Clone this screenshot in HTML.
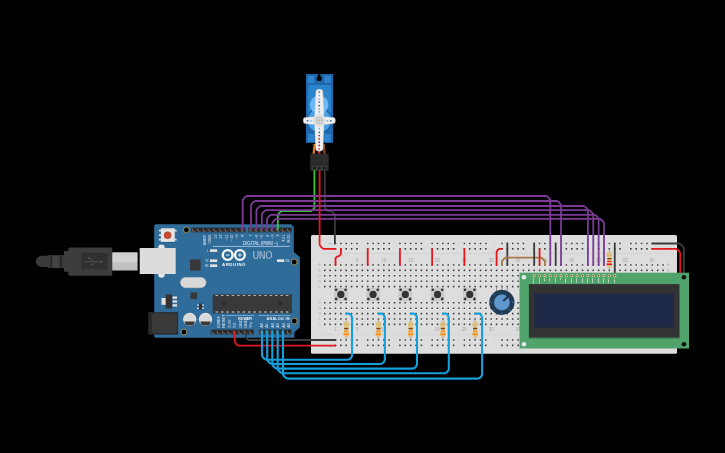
<!DOCTYPE html>
<html><head><meta charset="utf-8"><style>html,body{margin:0;padding:0;background:#000;overflow:hidden}svg{display:block;will-change:transform}</style></head>
<body><svg width="725" height="453" viewBox="0 0 725 453">
<rect x="0" y="0" width="725" height="453" fill="#000"/>
<rect x="311" y="235" width="366" height="118.8" rx="1.6" fill="#dddddd"/>
<line x1="320" y1="253.5" x2="668" y2="253.5" stroke="#cfcfcf" stroke-width="0.6"/>
<line x1="320" y1="334.6" x2="668" y2="334.6" stroke="#d2d2d2" stroke-width="0.6"/>
<line x1="494" y1="237" x2="494" y2="252" stroke="#d2d2d2" stroke-width="0.5"/>
<line x1="494" y1="336" x2="494" y2="351" stroke="#d2d2d2" stroke-width="0.5"/>
<path d="M323.56 263.9h2.6v2.6h-2.6zM323.56 269.3h2.6v2.6h-2.6zM323.56 274.7h2.6v2.6h-2.6zM323.56 280.1h2.6v2.6h-2.6zM323.56 285.5h2.6v2.6h-2.6zM323.56 301.7h2.6v2.6h-2.6zM323.56 307.1h2.6v2.6h-2.6zM323.56 312.5h2.6v2.6h-2.6zM323.56 317.9h2.6v2.6h-2.6zM323.56 323.3h2.6v2.6h-2.6zM328.93 263.9h2.6v2.6h-2.6zM328.93 269.3h2.6v2.6h-2.6zM328.93 274.7h2.6v2.6h-2.6zM328.93 280.1h2.6v2.6h-2.6zM328.93 285.5h2.6v2.6h-2.6zM328.93 301.7h2.6v2.6h-2.6zM328.93 307.1h2.6v2.6h-2.6zM328.93 312.5h2.6v2.6h-2.6zM328.93 317.9h2.6v2.6h-2.6zM328.93 323.3h2.6v2.6h-2.6zM334.3 263.9h2.6v2.6h-2.6zM334.3 269.3h2.6v2.6h-2.6zM334.3 274.7h2.6v2.6h-2.6zM334.3 280.1h2.6v2.6h-2.6zM334.3 285.5h2.6v2.6h-2.6zM334.3 301.7h2.6v2.6h-2.6zM334.3 307.1h2.6v2.6h-2.6zM334.3 312.5h2.6v2.6h-2.6zM334.3 317.9h2.6v2.6h-2.6zM334.3 323.3h2.6v2.6h-2.6zM339.67 263.9h2.6v2.6h-2.6zM339.67 269.3h2.6v2.6h-2.6zM339.67 274.7h2.6v2.6h-2.6zM339.67 280.1h2.6v2.6h-2.6zM339.67 285.5h2.6v2.6h-2.6zM339.67 301.7h2.6v2.6h-2.6zM339.67 307.1h2.6v2.6h-2.6zM339.67 312.5h2.6v2.6h-2.6zM339.67 317.9h2.6v2.6h-2.6zM339.67 323.3h2.6v2.6h-2.6zM345.04 263.9h2.6v2.6h-2.6zM345.04 269.3h2.6v2.6h-2.6zM345.04 274.7h2.6v2.6h-2.6zM345.04 280.1h2.6v2.6h-2.6zM345.04 285.5h2.6v2.6h-2.6zM345.04 301.7h2.6v2.6h-2.6zM345.04 307.1h2.6v2.6h-2.6zM345.04 312.5h2.6v2.6h-2.6zM345.04 317.9h2.6v2.6h-2.6zM345.04 323.3h2.6v2.6h-2.6zM350.41 263.9h2.6v2.6h-2.6zM350.41 269.3h2.6v2.6h-2.6zM350.41 274.7h2.6v2.6h-2.6zM350.41 280.1h2.6v2.6h-2.6zM350.41 285.5h2.6v2.6h-2.6zM350.41 301.7h2.6v2.6h-2.6zM350.41 307.1h2.6v2.6h-2.6zM350.41 312.5h2.6v2.6h-2.6zM350.41 317.9h2.6v2.6h-2.6zM350.41 323.3h2.6v2.6h-2.6zM355.78 263.9h2.6v2.6h-2.6zM355.78 269.3h2.6v2.6h-2.6zM355.78 274.7h2.6v2.6h-2.6zM355.78 280.1h2.6v2.6h-2.6zM355.78 285.5h2.6v2.6h-2.6zM355.78 301.7h2.6v2.6h-2.6zM355.78 307.1h2.6v2.6h-2.6zM355.78 312.5h2.6v2.6h-2.6zM355.78 317.9h2.6v2.6h-2.6zM355.78 323.3h2.6v2.6h-2.6zM361.15 263.9h2.6v2.6h-2.6zM361.15 269.3h2.6v2.6h-2.6zM361.15 274.7h2.6v2.6h-2.6zM361.15 280.1h2.6v2.6h-2.6zM361.15 285.5h2.6v2.6h-2.6zM361.15 301.7h2.6v2.6h-2.6zM361.15 307.1h2.6v2.6h-2.6zM361.15 312.5h2.6v2.6h-2.6zM361.15 317.9h2.6v2.6h-2.6zM361.15 323.3h2.6v2.6h-2.6zM366.52 263.9h2.6v2.6h-2.6zM366.52 269.3h2.6v2.6h-2.6zM366.52 274.7h2.6v2.6h-2.6zM366.52 280.1h2.6v2.6h-2.6zM366.52 285.5h2.6v2.6h-2.6zM366.52 301.7h2.6v2.6h-2.6zM366.52 307.1h2.6v2.6h-2.6zM366.52 312.5h2.6v2.6h-2.6zM366.52 317.9h2.6v2.6h-2.6zM366.52 323.3h2.6v2.6h-2.6zM371.89 263.9h2.6v2.6h-2.6zM371.89 269.3h2.6v2.6h-2.6zM371.89 274.7h2.6v2.6h-2.6zM371.89 280.1h2.6v2.6h-2.6zM371.89 285.5h2.6v2.6h-2.6zM371.89 301.7h2.6v2.6h-2.6zM371.89 307.1h2.6v2.6h-2.6zM371.89 312.5h2.6v2.6h-2.6zM371.89 317.9h2.6v2.6h-2.6zM371.89 323.3h2.6v2.6h-2.6zM377.26 263.9h2.6v2.6h-2.6zM377.26 269.3h2.6v2.6h-2.6zM377.26 274.7h2.6v2.6h-2.6zM377.26 280.1h2.6v2.6h-2.6zM377.26 285.5h2.6v2.6h-2.6zM377.26 301.7h2.6v2.6h-2.6zM377.26 307.1h2.6v2.6h-2.6zM377.26 312.5h2.6v2.6h-2.6zM377.26 317.9h2.6v2.6h-2.6zM377.26 323.3h2.6v2.6h-2.6zM382.63 263.9h2.6v2.6h-2.6zM382.63 269.3h2.6v2.6h-2.6zM382.63 274.7h2.6v2.6h-2.6zM382.63 280.1h2.6v2.6h-2.6zM382.63 285.5h2.6v2.6h-2.6zM382.63 301.7h2.6v2.6h-2.6zM382.63 307.1h2.6v2.6h-2.6zM382.63 312.5h2.6v2.6h-2.6zM382.63 317.9h2.6v2.6h-2.6zM382.63 323.3h2.6v2.6h-2.6zM388 263.9h2.6v2.6h-2.6zM388 269.3h2.6v2.6h-2.6zM388 274.7h2.6v2.6h-2.6zM388 280.1h2.6v2.6h-2.6zM388 285.5h2.6v2.6h-2.6zM388 301.7h2.6v2.6h-2.6zM388 307.1h2.6v2.6h-2.6zM388 312.5h2.6v2.6h-2.6zM388 317.9h2.6v2.6h-2.6zM388 323.3h2.6v2.6h-2.6zM393.37 263.9h2.6v2.6h-2.6zM393.37 269.3h2.6v2.6h-2.6zM393.37 274.7h2.6v2.6h-2.6zM393.37 280.1h2.6v2.6h-2.6zM393.37 285.5h2.6v2.6h-2.6zM393.37 301.7h2.6v2.6h-2.6zM393.37 307.1h2.6v2.6h-2.6zM393.37 312.5h2.6v2.6h-2.6zM393.37 317.9h2.6v2.6h-2.6zM393.37 323.3h2.6v2.6h-2.6zM398.74 263.9h2.6v2.6h-2.6zM398.74 269.3h2.6v2.6h-2.6zM398.74 274.7h2.6v2.6h-2.6zM398.74 280.1h2.6v2.6h-2.6zM398.74 285.5h2.6v2.6h-2.6zM398.74 301.7h2.6v2.6h-2.6zM398.74 307.1h2.6v2.6h-2.6zM398.74 312.5h2.6v2.6h-2.6zM398.74 317.9h2.6v2.6h-2.6zM398.74 323.3h2.6v2.6h-2.6zM404.11 263.9h2.6v2.6h-2.6zM404.11 269.3h2.6v2.6h-2.6zM404.11 274.7h2.6v2.6h-2.6zM404.11 280.1h2.6v2.6h-2.6zM404.11 285.5h2.6v2.6h-2.6zM404.11 301.7h2.6v2.6h-2.6zM404.11 307.1h2.6v2.6h-2.6zM404.11 312.5h2.6v2.6h-2.6zM404.11 317.9h2.6v2.6h-2.6zM404.11 323.3h2.6v2.6h-2.6zM409.48 263.9h2.6v2.6h-2.6zM409.48 269.3h2.6v2.6h-2.6zM409.48 274.7h2.6v2.6h-2.6zM409.48 280.1h2.6v2.6h-2.6zM409.48 285.5h2.6v2.6h-2.6zM409.48 301.7h2.6v2.6h-2.6zM409.48 307.1h2.6v2.6h-2.6zM409.48 312.5h2.6v2.6h-2.6zM409.48 317.9h2.6v2.6h-2.6zM409.48 323.3h2.6v2.6h-2.6zM414.85 263.9h2.6v2.6h-2.6zM414.85 269.3h2.6v2.6h-2.6zM414.85 274.7h2.6v2.6h-2.6zM414.85 280.1h2.6v2.6h-2.6zM414.85 285.5h2.6v2.6h-2.6zM414.85 301.7h2.6v2.6h-2.6zM414.85 307.1h2.6v2.6h-2.6zM414.85 312.5h2.6v2.6h-2.6zM414.85 317.9h2.6v2.6h-2.6zM414.85 323.3h2.6v2.6h-2.6zM420.22 263.9h2.6v2.6h-2.6zM420.22 269.3h2.6v2.6h-2.6zM420.22 274.7h2.6v2.6h-2.6zM420.22 280.1h2.6v2.6h-2.6zM420.22 285.5h2.6v2.6h-2.6zM420.22 301.7h2.6v2.6h-2.6zM420.22 307.1h2.6v2.6h-2.6zM420.22 312.5h2.6v2.6h-2.6zM420.22 317.9h2.6v2.6h-2.6zM420.22 323.3h2.6v2.6h-2.6zM425.59 263.9h2.6v2.6h-2.6zM425.59 269.3h2.6v2.6h-2.6zM425.59 274.7h2.6v2.6h-2.6zM425.59 280.1h2.6v2.6h-2.6zM425.59 285.5h2.6v2.6h-2.6zM425.59 301.7h2.6v2.6h-2.6zM425.59 307.1h2.6v2.6h-2.6zM425.59 312.5h2.6v2.6h-2.6zM425.59 317.9h2.6v2.6h-2.6zM425.59 323.3h2.6v2.6h-2.6zM430.96 263.9h2.6v2.6h-2.6zM430.96 269.3h2.6v2.6h-2.6zM430.96 274.7h2.6v2.6h-2.6zM430.96 280.1h2.6v2.6h-2.6zM430.96 285.5h2.6v2.6h-2.6zM430.96 301.7h2.6v2.6h-2.6zM430.96 307.1h2.6v2.6h-2.6zM430.96 312.5h2.6v2.6h-2.6zM430.96 317.9h2.6v2.6h-2.6zM430.96 323.3h2.6v2.6h-2.6zM436.33 263.9h2.6v2.6h-2.6zM436.33 269.3h2.6v2.6h-2.6zM436.33 274.7h2.6v2.6h-2.6zM436.33 280.1h2.6v2.6h-2.6zM436.33 285.5h2.6v2.6h-2.6zM436.33 301.7h2.6v2.6h-2.6zM436.33 307.1h2.6v2.6h-2.6zM436.33 312.5h2.6v2.6h-2.6zM436.33 317.9h2.6v2.6h-2.6zM436.33 323.3h2.6v2.6h-2.6zM441.7 263.9h2.6v2.6h-2.6zM441.7 269.3h2.6v2.6h-2.6zM441.7 274.7h2.6v2.6h-2.6zM441.7 280.1h2.6v2.6h-2.6zM441.7 285.5h2.6v2.6h-2.6zM441.7 301.7h2.6v2.6h-2.6zM441.7 307.1h2.6v2.6h-2.6zM441.7 312.5h2.6v2.6h-2.6zM441.7 317.9h2.6v2.6h-2.6zM441.7 323.3h2.6v2.6h-2.6zM447.07 263.9h2.6v2.6h-2.6zM447.07 269.3h2.6v2.6h-2.6zM447.07 274.7h2.6v2.6h-2.6zM447.07 280.1h2.6v2.6h-2.6zM447.07 285.5h2.6v2.6h-2.6zM447.07 301.7h2.6v2.6h-2.6zM447.07 307.1h2.6v2.6h-2.6zM447.07 312.5h2.6v2.6h-2.6zM447.07 317.9h2.6v2.6h-2.6zM447.07 323.3h2.6v2.6h-2.6zM452.44 263.9h2.6v2.6h-2.6zM452.44 269.3h2.6v2.6h-2.6zM452.44 274.7h2.6v2.6h-2.6zM452.44 280.1h2.6v2.6h-2.6zM452.44 285.5h2.6v2.6h-2.6zM452.44 301.7h2.6v2.6h-2.6zM452.44 307.1h2.6v2.6h-2.6zM452.44 312.5h2.6v2.6h-2.6zM452.44 317.9h2.6v2.6h-2.6zM452.44 323.3h2.6v2.6h-2.6zM457.81 263.9h2.6v2.6h-2.6zM457.81 269.3h2.6v2.6h-2.6zM457.81 274.7h2.6v2.6h-2.6zM457.81 280.1h2.6v2.6h-2.6zM457.81 285.5h2.6v2.6h-2.6zM457.81 301.7h2.6v2.6h-2.6zM457.81 307.1h2.6v2.6h-2.6zM457.81 312.5h2.6v2.6h-2.6zM457.81 317.9h2.6v2.6h-2.6zM457.81 323.3h2.6v2.6h-2.6zM463.18 263.9h2.6v2.6h-2.6zM463.18 269.3h2.6v2.6h-2.6zM463.18 274.7h2.6v2.6h-2.6zM463.18 280.1h2.6v2.6h-2.6zM463.18 285.5h2.6v2.6h-2.6zM463.18 301.7h2.6v2.6h-2.6zM463.18 307.1h2.6v2.6h-2.6zM463.18 312.5h2.6v2.6h-2.6zM463.18 317.9h2.6v2.6h-2.6zM463.18 323.3h2.6v2.6h-2.6zM468.55 263.9h2.6v2.6h-2.6zM468.55 269.3h2.6v2.6h-2.6zM468.55 274.7h2.6v2.6h-2.6zM468.55 280.1h2.6v2.6h-2.6zM468.55 285.5h2.6v2.6h-2.6zM468.55 301.7h2.6v2.6h-2.6zM468.55 307.1h2.6v2.6h-2.6zM468.55 312.5h2.6v2.6h-2.6zM468.55 317.9h2.6v2.6h-2.6zM468.55 323.3h2.6v2.6h-2.6zM473.92 263.9h2.6v2.6h-2.6zM473.92 269.3h2.6v2.6h-2.6zM473.92 274.7h2.6v2.6h-2.6zM473.92 280.1h2.6v2.6h-2.6zM473.92 285.5h2.6v2.6h-2.6zM473.92 301.7h2.6v2.6h-2.6zM473.92 307.1h2.6v2.6h-2.6zM473.92 312.5h2.6v2.6h-2.6zM473.92 317.9h2.6v2.6h-2.6zM473.92 323.3h2.6v2.6h-2.6zM479.29 263.9h2.6v2.6h-2.6zM479.29 269.3h2.6v2.6h-2.6zM479.29 274.7h2.6v2.6h-2.6zM479.29 280.1h2.6v2.6h-2.6zM479.29 285.5h2.6v2.6h-2.6zM479.29 301.7h2.6v2.6h-2.6zM479.29 307.1h2.6v2.6h-2.6zM479.29 312.5h2.6v2.6h-2.6zM479.29 317.9h2.6v2.6h-2.6zM479.29 323.3h2.6v2.6h-2.6zM484.66 263.9h2.6v2.6h-2.6zM484.66 269.3h2.6v2.6h-2.6zM484.66 274.7h2.6v2.6h-2.6zM484.66 280.1h2.6v2.6h-2.6zM484.66 285.5h2.6v2.6h-2.6zM484.66 301.7h2.6v2.6h-2.6zM484.66 307.1h2.6v2.6h-2.6zM484.66 312.5h2.6v2.6h-2.6zM484.66 317.9h2.6v2.6h-2.6zM484.66 323.3h2.6v2.6h-2.6zM490.03 263.9h2.6v2.6h-2.6zM490.03 269.3h2.6v2.6h-2.6zM490.03 274.7h2.6v2.6h-2.6zM490.03 280.1h2.6v2.6h-2.6zM490.03 285.5h2.6v2.6h-2.6zM490.03 301.7h2.6v2.6h-2.6zM490.03 307.1h2.6v2.6h-2.6zM490.03 312.5h2.6v2.6h-2.6zM490.03 317.9h2.6v2.6h-2.6zM490.03 323.3h2.6v2.6h-2.6zM495.4 263.9h2.6v2.6h-2.6zM495.4 269.3h2.6v2.6h-2.6zM495.4 274.7h2.6v2.6h-2.6zM495.4 280.1h2.6v2.6h-2.6zM495.4 285.5h2.6v2.6h-2.6zM495.4 301.7h2.6v2.6h-2.6zM495.4 307.1h2.6v2.6h-2.6zM495.4 312.5h2.6v2.6h-2.6zM495.4 317.9h2.6v2.6h-2.6zM495.4 323.3h2.6v2.6h-2.6zM500.77 263.9h2.6v2.6h-2.6zM500.77 269.3h2.6v2.6h-2.6zM500.77 274.7h2.6v2.6h-2.6zM500.77 280.1h2.6v2.6h-2.6zM500.77 285.5h2.6v2.6h-2.6zM500.77 301.7h2.6v2.6h-2.6zM500.77 307.1h2.6v2.6h-2.6zM500.77 312.5h2.6v2.6h-2.6zM500.77 317.9h2.6v2.6h-2.6zM500.77 323.3h2.6v2.6h-2.6zM506.14 263.9h2.6v2.6h-2.6zM506.14 269.3h2.6v2.6h-2.6zM506.14 274.7h2.6v2.6h-2.6zM506.14 280.1h2.6v2.6h-2.6zM506.14 285.5h2.6v2.6h-2.6zM506.14 301.7h2.6v2.6h-2.6zM506.14 307.1h2.6v2.6h-2.6zM506.14 312.5h2.6v2.6h-2.6zM506.14 317.9h2.6v2.6h-2.6zM506.14 323.3h2.6v2.6h-2.6zM511.51 263.9h2.6v2.6h-2.6zM511.51 269.3h2.6v2.6h-2.6zM511.51 274.7h2.6v2.6h-2.6zM511.51 280.1h2.6v2.6h-2.6zM511.51 285.5h2.6v2.6h-2.6zM511.51 301.7h2.6v2.6h-2.6zM511.51 307.1h2.6v2.6h-2.6zM511.51 312.5h2.6v2.6h-2.6zM511.51 317.9h2.6v2.6h-2.6zM511.51 323.3h2.6v2.6h-2.6zM516.88 263.9h2.6v2.6h-2.6zM516.88 269.3h2.6v2.6h-2.6zM516.88 274.7h2.6v2.6h-2.6zM516.88 280.1h2.6v2.6h-2.6zM516.88 285.5h2.6v2.6h-2.6zM516.88 301.7h2.6v2.6h-2.6zM516.88 307.1h2.6v2.6h-2.6zM516.88 312.5h2.6v2.6h-2.6zM516.88 317.9h2.6v2.6h-2.6zM516.88 323.3h2.6v2.6h-2.6zM522.25 263.9h2.6v2.6h-2.6zM522.25 269.3h2.6v2.6h-2.6zM522.25 274.7h2.6v2.6h-2.6zM522.25 280.1h2.6v2.6h-2.6zM522.25 285.5h2.6v2.6h-2.6zM522.25 301.7h2.6v2.6h-2.6zM522.25 307.1h2.6v2.6h-2.6zM522.25 312.5h2.6v2.6h-2.6zM522.25 317.9h2.6v2.6h-2.6zM522.25 323.3h2.6v2.6h-2.6zM527.62 263.9h2.6v2.6h-2.6zM527.62 269.3h2.6v2.6h-2.6zM527.62 274.7h2.6v2.6h-2.6zM527.62 280.1h2.6v2.6h-2.6zM527.62 285.5h2.6v2.6h-2.6zM527.62 301.7h2.6v2.6h-2.6zM527.62 307.1h2.6v2.6h-2.6zM527.62 312.5h2.6v2.6h-2.6zM527.62 317.9h2.6v2.6h-2.6zM527.62 323.3h2.6v2.6h-2.6zM532.99 263.9h2.6v2.6h-2.6zM532.99 269.3h2.6v2.6h-2.6zM532.99 274.7h2.6v2.6h-2.6zM532.99 280.1h2.6v2.6h-2.6zM532.99 285.5h2.6v2.6h-2.6zM532.99 301.7h2.6v2.6h-2.6zM532.99 307.1h2.6v2.6h-2.6zM532.99 312.5h2.6v2.6h-2.6zM532.99 317.9h2.6v2.6h-2.6zM532.99 323.3h2.6v2.6h-2.6zM538.36 263.9h2.6v2.6h-2.6zM538.36 269.3h2.6v2.6h-2.6zM538.36 274.7h2.6v2.6h-2.6zM538.36 280.1h2.6v2.6h-2.6zM538.36 285.5h2.6v2.6h-2.6zM538.36 301.7h2.6v2.6h-2.6zM538.36 307.1h2.6v2.6h-2.6zM538.36 312.5h2.6v2.6h-2.6zM538.36 317.9h2.6v2.6h-2.6zM538.36 323.3h2.6v2.6h-2.6zM543.73 263.9h2.6v2.6h-2.6zM543.73 269.3h2.6v2.6h-2.6zM543.73 274.7h2.6v2.6h-2.6zM543.73 280.1h2.6v2.6h-2.6zM543.73 285.5h2.6v2.6h-2.6zM543.73 301.7h2.6v2.6h-2.6zM543.73 307.1h2.6v2.6h-2.6zM543.73 312.5h2.6v2.6h-2.6zM543.73 317.9h2.6v2.6h-2.6zM543.73 323.3h2.6v2.6h-2.6zM549.1 263.9h2.6v2.6h-2.6zM549.1 269.3h2.6v2.6h-2.6zM549.1 274.7h2.6v2.6h-2.6zM549.1 280.1h2.6v2.6h-2.6zM549.1 285.5h2.6v2.6h-2.6zM549.1 301.7h2.6v2.6h-2.6zM549.1 307.1h2.6v2.6h-2.6zM549.1 312.5h2.6v2.6h-2.6zM549.1 317.9h2.6v2.6h-2.6zM549.1 323.3h2.6v2.6h-2.6zM554.47 263.9h2.6v2.6h-2.6zM554.47 269.3h2.6v2.6h-2.6zM554.47 274.7h2.6v2.6h-2.6zM554.47 280.1h2.6v2.6h-2.6zM554.47 285.5h2.6v2.6h-2.6zM554.47 301.7h2.6v2.6h-2.6zM554.47 307.1h2.6v2.6h-2.6zM554.47 312.5h2.6v2.6h-2.6zM554.47 317.9h2.6v2.6h-2.6zM554.47 323.3h2.6v2.6h-2.6zM559.84 263.9h2.6v2.6h-2.6zM559.84 269.3h2.6v2.6h-2.6zM559.84 274.7h2.6v2.6h-2.6zM559.84 280.1h2.6v2.6h-2.6zM559.84 285.5h2.6v2.6h-2.6zM559.84 301.7h2.6v2.6h-2.6zM559.84 307.1h2.6v2.6h-2.6zM559.84 312.5h2.6v2.6h-2.6zM559.84 317.9h2.6v2.6h-2.6zM559.84 323.3h2.6v2.6h-2.6zM565.21 263.9h2.6v2.6h-2.6zM565.21 269.3h2.6v2.6h-2.6zM565.21 274.7h2.6v2.6h-2.6zM565.21 280.1h2.6v2.6h-2.6zM565.21 285.5h2.6v2.6h-2.6zM565.21 301.7h2.6v2.6h-2.6zM565.21 307.1h2.6v2.6h-2.6zM565.21 312.5h2.6v2.6h-2.6zM565.21 317.9h2.6v2.6h-2.6zM565.21 323.3h2.6v2.6h-2.6zM570.58 263.9h2.6v2.6h-2.6zM570.58 269.3h2.6v2.6h-2.6zM570.58 274.7h2.6v2.6h-2.6zM570.58 280.1h2.6v2.6h-2.6zM570.58 285.5h2.6v2.6h-2.6zM570.58 301.7h2.6v2.6h-2.6zM570.58 307.1h2.6v2.6h-2.6zM570.58 312.5h2.6v2.6h-2.6zM570.58 317.9h2.6v2.6h-2.6zM570.58 323.3h2.6v2.6h-2.6zM575.95 263.9h2.6v2.6h-2.6zM575.95 269.3h2.6v2.6h-2.6zM575.95 274.7h2.6v2.6h-2.6zM575.95 280.1h2.6v2.6h-2.6zM575.95 285.5h2.6v2.6h-2.6zM575.95 301.7h2.6v2.6h-2.6zM575.95 307.1h2.6v2.6h-2.6zM575.95 312.5h2.6v2.6h-2.6zM575.95 317.9h2.6v2.6h-2.6zM575.95 323.3h2.6v2.6h-2.6zM581.32 263.9h2.6v2.6h-2.6zM581.32 269.3h2.6v2.6h-2.6zM581.32 274.7h2.6v2.6h-2.6zM581.32 280.1h2.6v2.6h-2.6zM581.32 285.5h2.6v2.6h-2.6zM581.32 301.7h2.6v2.6h-2.6zM581.32 307.1h2.6v2.6h-2.6zM581.32 312.5h2.6v2.6h-2.6zM581.32 317.9h2.6v2.6h-2.6zM581.32 323.3h2.6v2.6h-2.6zM586.69 263.9h2.6v2.6h-2.6zM586.69 269.3h2.6v2.6h-2.6zM586.69 274.7h2.6v2.6h-2.6zM586.69 280.1h2.6v2.6h-2.6zM586.69 285.5h2.6v2.6h-2.6zM586.69 301.7h2.6v2.6h-2.6zM586.69 307.1h2.6v2.6h-2.6zM586.69 312.5h2.6v2.6h-2.6zM586.69 317.9h2.6v2.6h-2.6zM586.69 323.3h2.6v2.6h-2.6zM592.06 263.9h2.6v2.6h-2.6zM592.06 269.3h2.6v2.6h-2.6zM592.06 274.7h2.6v2.6h-2.6zM592.06 280.1h2.6v2.6h-2.6zM592.06 285.5h2.6v2.6h-2.6zM592.06 301.7h2.6v2.6h-2.6zM592.06 307.1h2.6v2.6h-2.6zM592.06 312.5h2.6v2.6h-2.6zM592.06 317.9h2.6v2.6h-2.6zM592.06 323.3h2.6v2.6h-2.6zM597.43 263.9h2.6v2.6h-2.6zM597.43 269.3h2.6v2.6h-2.6zM597.43 274.7h2.6v2.6h-2.6zM597.43 280.1h2.6v2.6h-2.6zM597.43 285.5h2.6v2.6h-2.6zM597.43 301.7h2.6v2.6h-2.6zM597.43 307.1h2.6v2.6h-2.6zM597.43 312.5h2.6v2.6h-2.6zM597.43 317.9h2.6v2.6h-2.6zM597.43 323.3h2.6v2.6h-2.6zM602.8 263.9h2.6v2.6h-2.6zM602.8 269.3h2.6v2.6h-2.6zM602.8 274.7h2.6v2.6h-2.6zM602.8 280.1h2.6v2.6h-2.6zM602.8 285.5h2.6v2.6h-2.6zM602.8 301.7h2.6v2.6h-2.6zM602.8 307.1h2.6v2.6h-2.6zM602.8 312.5h2.6v2.6h-2.6zM602.8 317.9h2.6v2.6h-2.6zM602.8 323.3h2.6v2.6h-2.6zM608.17 263.9h2.6v2.6h-2.6zM608.17 269.3h2.6v2.6h-2.6zM608.17 274.7h2.6v2.6h-2.6zM608.17 280.1h2.6v2.6h-2.6zM608.17 285.5h2.6v2.6h-2.6zM608.17 301.7h2.6v2.6h-2.6zM608.17 307.1h2.6v2.6h-2.6zM608.17 312.5h2.6v2.6h-2.6zM608.17 317.9h2.6v2.6h-2.6zM608.17 323.3h2.6v2.6h-2.6zM613.54 263.9h2.6v2.6h-2.6zM613.54 269.3h2.6v2.6h-2.6zM613.54 274.7h2.6v2.6h-2.6zM613.54 280.1h2.6v2.6h-2.6zM613.54 285.5h2.6v2.6h-2.6zM613.54 301.7h2.6v2.6h-2.6zM613.54 307.1h2.6v2.6h-2.6zM613.54 312.5h2.6v2.6h-2.6zM613.54 317.9h2.6v2.6h-2.6zM613.54 323.3h2.6v2.6h-2.6zM618.91 263.9h2.6v2.6h-2.6zM618.91 269.3h2.6v2.6h-2.6zM618.91 274.7h2.6v2.6h-2.6zM618.91 280.1h2.6v2.6h-2.6zM618.91 285.5h2.6v2.6h-2.6zM618.91 301.7h2.6v2.6h-2.6zM618.91 307.1h2.6v2.6h-2.6zM618.91 312.5h2.6v2.6h-2.6zM618.91 317.9h2.6v2.6h-2.6zM618.91 323.3h2.6v2.6h-2.6zM624.28 263.9h2.6v2.6h-2.6zM624.28 269.3h2.6v2.6h-2.6zM624.28 274.7h2.6v2.6h-2.6zM624.28 280.1h2.6v2.6h-2.6zM624.28 285.5h2.6v2.6h-2.6zM624.28 301.7h2.6v2.6h-2.6zM624.28 307.1h2.6v2.6h-2.6zM624.28 312.5h2.6v2.6h-2.6zM624.28 317.9h2.6v2.6h-2.6zM624.28 323.3h2.6v2.6h-2.6zM629.65 263.9h2.6v2.6h-2.6zM629.65 269.3h2.6v2.6h-2.6zM629.65 274.7h2.6v2.6h-2.6zM629.65 280.1h2.6v2.6h-2.6zM629.65 285.5h2.6v2.6h-2.6zM629.65 301.7h2.6v2.6h-2.6zM629.65 307.1h2.6v2.6h-2.6zM629.65 312.5h2.6v2.6h-2.6zM629.65 317.9h2.6v2.6h-2.6zM629.65 323.3h2.6v2.6h-2.6zM635.02 263.9h2.6v2.6h-2.6zM635.02 269.3h2.6v2.6h-2.6zM635.02 274.7h2.6v2.6h-2.6zM635.02 280.1h2.6v2.6h-2.6zM635.02 285.5h2.6v2.6h-2.6zM635.02 301.7h2.6v2.6h-2.6zM635.02 307.1h2.6v2.6h-2.6zM635.02 312.5h2.6v2.6h-2.6zM635.02 317.9h2.6v2.6h-2.6zM635.02 323.3h2.6v2.6h-2.6zM640.39 263.9h2.6v2.6h-2.6zM640.39 269.3h2.6v2.6h-2.6zM640.39 274.7h2.6v2.6h-2.6zM640.39 280.1h2.6v2.6h-2.6zM640.39 285.5h2.6v2.6h-2.6zM640.39 301.7h2.6v2.6h-2.6zM640.39 307.1h2.6v2.6h-2.6zM640.39 312.5h2.6v2.6h-2.6zM640.39 317.9h2.6v2.6h-2.6zM640.39 323.3h2.6v2.6h-2.6zM645.76 263.9h2.6v2.6h-2.6zM645.76 269.3h2.6v2.6h-2.6zM645.76 274.7h2.6v2.6h-2.6zM645.76 280.1h2.6v2.6h-2.6zM645.76 285.5h2.6v2.6h-2.6zM645.76 301.7h2.6v2.6h-2.6zM645.76 307.1h2.6v2.6h-2.6zM645.76 312.5h2.6v2.6h-2.6zM645.76 317.9h2.6v2.6h-2.6zM645.76 323.3h2.6v2.6h-2.6zM651.13 263.9h2.6v2.6h-2.6zM651.13 269.3h2.6v2.6h-2.6zM651.13 274.7h2.6v2.6h-2.6zM651.13 280.1h2.6v2.6h-2.6zM651.13 285.5h2.6v2.6h-2.6zM651.13 301.7h2.6v2.6h-2.6zM651.13 307.1h2.6v2.6h-2.6zM651.13 312.5h2.6v2.6h-2.6zM651.13 317.9h2.6v2.6h-2.6zM651.13 323.3h2.6v2.6h-2.6zM656.5 263.9h2.6v2.6h-2.6zM656.5 269.3h2.6v2.6h-2.6zM656.5 274.7h2.6v2.6h-2.6zM656.5 280.1h2.6v2.6h-2.6zM656.5 285.5h2.6v2.6h-2.6zM656.5 301.7h2.6v2.6h-2.6zM656.5 307.1h2.6v2.6h-2.6zM656.5 312.5h2.6v2.6h-2.6zM656.5 317.9h2.6v2.6h-2.6zM656.5 323.3h2.6v2.6h-2.6zM661.87 263.9h2.6v2.6h-2.6zM661.87 269.3h2.6v2.6h-2.6zM661.87 274.7h2.6v2.6h-2.6zM661.87 280.1h2.6v2.6h-2.6zM661.87 285.5h2.6v2.6h-2.6zM661.87 301.7h2.6v2.6h-2.6zM661.87 307.1h2.6v2.6h-2.6zM661.87 312.5h2.6v2.6h-2.6zM661.87 317.9h2.6v2.6h-2.6zM661.87 323.3h2.6v2.6h-2.6zM334.3 242.4h2.6v2.6h-2.6zM334.3 247.8h2.6v2.6h-2.6zM334.3 338.9h2.6v2.6h-2.6zM334.3 344.3h2.6v2.6h-2.6zM339.67 242.4h2.6v2.6h-2.6zM339.67 247.8h2.6v2.6h-2.6zM339.67 338.9h2.6v2.6h-2.6zM339.67 344.3h2.6v2.6h-2.6zM345.04 242.4h2.6v2.6h-2.6zM345.04 247.8h2.6v2.6h-2.6zM345.04 338.9h2.6v2.6h-2.6zM345.04 344.3h2.6v2.6h-2.6zM350.41 242.4h2.6v2.6h-2.6zM350.41 247.8h2.6v2.6h-2.6zM350.41 338.9h2.6v2.6h-2.6zM350.41 344.3h2.6v2.6h-2.6zM355.78 242.4h2.6v2.6h-2.6zM355.78 247.8h2.6v2.6h-2.6zM355.78 338.9h2.6v2.6h-2.6zM355.78 344.3h2.6v2.6h-2.6zM366.52 242.4h2.6v2.6h-2.6zM366.52 247.8h2.6v2.6h-2.6zM366.52 338.9h2.6v2.6h-2.6zM366.52 344.3h2.6v2.6h-2.6zM371.89 242.4h2.6v2.6h-2.6zM371.89 247.8h2.6v2.6h-2.6zM371.89 338.9h2.6v2.6h-2.6zM371.89 344.3h2.6v2.6h-2.6zM377.26 242.4h2.6v2.6h-2.6zM377.26 247.8h2.6v2.6h-2.6zM377.26 338.9h2.6v2.6h-2.6zM377.26 344.3h2.6v2.6h-2.6zM382.63 242.4h2.6v2.6h-2.6zM382.63 247.8h2.6v2.6h-2.6zM382.63 338.9h2.6v2.6h-2.6zM382.63 344.3h2.6v2.6h-2.6zM388 242.4h2.6v2.6h-2.6zM388 247.8h2.6v2.6h-2.6zM388 338.9h2.6v2.6h-2.6zM388 344.3h2.6v2.6h-2.6zM398.74 242.4h2.6v2.6h-2.6zM398.74 247.8h2.6v2.6h-2.6zM398.74 338.9h2.6v2.6h-2.6zM398.74 344.3h2.6v2.6h-2.6zM404.11 242.4h2.6v2.6h-2.6zM404.11 247.8h2.6v2.6h-2.6zM404.11 338.9h2.6v2.6h-2.6zM404.11 344.3h2.6v2.6h-2.6zM409.48 242.4h2.6v2.6h-2.6zM409.48 247.8h2.6v2.6h-2.6zM409.48 338.9h2.6v2.6h-2.6zM409.48 344.3h2.6v2.6h-2.6zM414.85 242.4h2.6v2.6h-2.6zM414.85 247.8h2.6v2.6h-2.6zM414.85 338.9h2.6v2.6h-2.6zM414.85 344.3h2.6v2.6h-2.6zM420.22 242.4h2.6v2.6h-2.6zM420.22 247.8h2.6v2.6h-2.6zM420.22 338.9h2.6v2.6h-2.6zM420.22 344.3h2.6v2.6h-2.6zM430.96 242.4h2.6v2.6h-2.6zM430.96 247.8h2.6v2.6h-2.6zM430.96 338.9h2.6v2.6h-2.6zM430.96 344.3h2.6v2.6h-2.6zM436.33 242.4h2.6v2.6h-2.6zM436.33 247.8h2.6v2.6h-2.6zM436.33 338.9h2.6v2.6h-2.6zM436.33 344.3h2.6v2.6h-2.6zM441.7 242.4h2.6v2.6h-2.6zM441.7 247.8h2.6v2.6h-2.6zM441.7 338.9h2.6v2.6h-2.6zM441.7 344.3h2.6v2.6h-2.6zM447.07 242.4h2.6v2.6h-2.6zM447.07 247.8h2.6v2.6h-2.6zM447.07 338.9h2.6v2.6h-2.6zM447.07 344.3h2.6v2.6h-2.6zM452.44 242.4h2.6v2.6h-2.6zM452.44 247.8h2.6v2.6h-2.6zM452.44 338.9h2.6v2.6h-2.6zM452.44 344.3h2.6v2.6h-2.6zM463.18 242.4h2.6v2.6h-2.6zM463.18 247.8h2.6v2.6h-2.6zM463.18 338.9h2.6v2.6h-2.6zM463.18 344.3h2.6v2.6h-2.6zM468.55 242.4h2.6v2.6h-2.6zM468.55 247.8h2.6v2.6h-2.6zM468.55 338.9h2.6v2.6h-2.6zM468.55 344.3h2.6v2.6h-2.6zM473.92 242.4h2.6v2.6h-2.6zM473.92 247.8h2.6v2.6h-2.6zM473.92 338.9h2.6v2.6h-2.6zM473.92 344.3h2.6v2.6h-2.6zM479.29 242.4h2.6v2.6h-2.6zM479.29 247.8h2.6v2.6h-2.6zM479.29 338.9h2.6v2.6h-2.6zM479.29 344.3h2.6v2.6h-2.6zM484.66 242.4h2.6v2.6h-2.6zM484.66 247.8h2.6v2.6h-2.6zM484.66 338.9h2.6v2.6h-2.6zM484.66 344.3h2.6v2.6h-2.6zM500.77 242.4h2.6v2.6h-2.6zM500.77 247.8h2.6v2.6h-2.6zM500.77 338.9h2.6v2.6h-2.6zM500.77 344.3h2.6v2.6h-2.6zM506.14 242.4h2.6v2.6h-2.6zM506.14 247.8h2.6v2.6h-2.6zM506.14 338.9h2.6v2.6h-2.6zM506.14 344.3h2.6v2.6h-2.6zM511.51 242.4h2.6v2.6h-2.6zM511.51 247.8h2.6v2.6h-2.6zM511.51 338.9h2.6v2.6h-2.6zM511.51 344.3h2.6v2.6h-2.6zM516.88 242.4h2.6v2.6h-2.6zM516.88 247.8h2.6v2.6h-2.6zM516.88 338.9h2.6v2.6h-2.6zM516.88 344.3h2.6v2.6h-2.6zM522.25 242.4h2.6v2.6h-2.6zM522.25 247.8h2.6v2.6h-2.6zM522.25 338.9h2.6v2.6h-2.6zM522.25 344.3h2.6v2.6h-2.6zM532.99 242.4h2.6v2.6h-2.6zM532.99 247.8h2.6v2.6h-2.6zM532.99 338.9h2.6v2.6h-2.6zM532.99 344.3h2.6v2.6h-2.6zM538.36 242.4h2.6v2.6h-2.6zM538.36 247.8h2.6v2.6h-2.6zM538.36 338.9h2.6v2.6h-2.6zM538.36 344.3h2.6v2.6h-2.6zM543.73 242.4h2.6v2.6h-2.6zM543.73 247.8h2.6v2.6h-2.6zM543.73 338.9h2.6v2.6h-2.6zM543.73 344.3h2.6v2.6h-2.6zM549.1 242.4h2.6v2.6h-2.6zM549.1 247.8h2.6v2.6h-2.6zM549.1 338.9h2.6v2.6h-2.6zM549.1 344.3h2.6v2.6h-2.6zM554.47 242.4h2.6v2.6h-2.6zM554.47 247.8h2.6v2.6h-2.6zM554.47 338.9h2.6v2.6h-2.6zM554.47 344.3h2.6v2.6h-2.6zM565.21 242.4h2.6v2.6h-2.6zM565.21 247.8h2.6v2.6h-2.6zM565.21 338.9h2.6v2.6h-2.6zM565.21 344.3h2.6v2.6h-2.6zM570.58 242.4h2.6v2.6h-2.6zM570.58 247.8h2.6v2.6h-2.6zM570.58 338.9h2.6v2.6h-2.6zM570.58 344.3h2.6v2.6h-2.6zM575.95 242.4h2.6v2.6h-2.6zM575.95 247.8h2.6v2.6h-2.6zM575.95 338.9h2.6v2.6h-2.6zM575.95 344.3h2.6v2.6h-2.6zM581.32 242.4h2.6v2.6h-2.6zM581.32 247.8h2.6v2.6h-2.6zM581.32 338.9h2.6v2.6h-2.6zM581.32 344.3h2.6v2.6h-2.6zM586.69 242.4h2.6v2.6h-2.6zM586.69 247.8h2.6v2.6h-2.6zM586.69 338.9h2.6v2.6h-2.6zM586.69 344.3h2.6v2.6h-2.6zM597.43 242.4h2.6v2.6h-2.6zM597.43 247.8h2.6v2.6h-2.6zM597.43 338.9h2.6v2.6h-2.6zM597.43 344.3h2.6v2.6h-2.6zM602.8 242.4h2.6v2.6h-2.6zM602.8 247.8h2.6v2.6h-2.6zM602.8 338.9h2.6v2.6h-2.6zM602.8 344.3h2.6v2.6h-2.6zM608.17 242.4h2.6v2.6h-2.6zM608.17 247.8h2.6v2.6h-2.6zM608.17 338.9h2.6v2.6h-2.6zM608.17 344.3h2.6v2.6h-2.6zM613.54 242.4h2.6v2.6h-2.6zM613.54 247.8h2.6v2.6h-2.6zM613.54 338.9h2.6v2.6h-2.6zM613.54 344.3h2.6v2.6h-2.6zM618.91 242.4h2.6v2.6h-2.6zM618.91 247.8h2.6v2.6h-2.6zM618.91 338.9h2.6v2.6h-2.6zM618.91 344.3h2.6v2.6h-2.6zM629.65 242.4h2.6v2.6h-2.6zM629.65 247.8h2.6v2.6h-2.6zM629.65 338.9h2.6v2.6h-2.6zM629.65 344.3h2.6v2.6h-2.6zM635.02 242.4h2.6v2.6h-2.6zM635.02 247.8h2.6v2.6h-2.6zM635.02 338.9h2.6v2.6h-2.6zM635.02 344.3h2.6v2.6h-2.6zM640.39 242.4h2.6v2.6h-2.6zM640.39 247.8h2.6v2.6h-2.6zM640.39 338.9h2.6v2.6h-2.6zM640.39 344.3h2.6v2.6h-2.6zM645.76 242.4h2.6v2.6h-2.6zM645.76 247.8h2.6v2.6h-2.6zM645.76 338.9h2.6v2.6h-2.6zM645.76 344.3h2.6v2.6h-2.6zM651.13 242.4h2.6v2.6h-2.6zM651.13 247.8h2.6v2.6h-2.6zM651.13 338.9h2.6v2.6h-2.6zM651.13 344.3h2.6v2.6h-2.6z" fill="#ededed"/>
<path d="M323.96 264.2h1.6v1.6h-1.6zM323.96 269.6h1.6v1.6h-1.6zM323.96 275h1.6v1.6h-1.6zM323.96 280.4h1.6v1.6h-1.6zM323.96 285.8h1.6v1.6h-1.6zM323.96 302h1.6v1.6h-1.6zM323.96 307.4h1.6v1.6h-1.6zM323.96 312.8h1.6v1.6h-1.6zM323.96 318.2h1.6v1.6h-1.6zM323.96 323.6h1.6v1.6h-1.6zM329.33 264.2h1.6v1.6h-1.6zM329.33 269.6h1.6v1.6h-1.6zM329.33 275h1.6v1.6h-1.6zM329.33 280.4h1.6v1.6h-1.6zM329.33 285.8h1.6v1.6h-1.6zM329.33 302h1.6v1.6h-1.6zM329.33 307.4h1.6v1.6h-1.6zM329.33 312.8h1.6v1.6h-1.6zM329.33 318.2h1.6v1.6h-1.6zM329.33 323.6h1.6v1.6h-1.6zM334.7 264.2h1.6v1.6h-1.6zM334.7 269.6h1.6v1.6h-1.6zM334.7 275h1.6v1.6h-1.6zM334.7 280.4h1.6v1.6h-1.6zM334.7 285.8h1.6v1.6h-1.6zM334.7 302h1.6v1.6h-1.6zM334.7 307.4h1.6v1.6h-1.6zM334.7 312.8h1.6v1.6h-1.6zM334.7 318.2h1.6v1.6h-1.6zM334.7 323.6h1.6v1.6h-1.6zM340.07 264.2h1.6v1.6h-1.6zM340.07 269.6h1.6v1.6h-1.6zM340.07 275h1.6v1.6h-1.6zM340.07 280.4h1.6v1.6h-1.6zM340.07 285.8h1.6v1.6h-1.6zM340.07 302h1.6v1.6h-1.6zM340.07 307.4h1.6v1.6h-1.6zM340.07 312.8h1.6v1.6h-1.6zM340.07 318.2h1.6v1.6h-1.6zM340.07 323.6h1.6v1.6h-1.6zM345.44 264.2h1.6v1.6h-1.6zM345.44 269.6h1.6v1.6h-1.6zM345.44 275h1.6v1.6h-1.6zM345.44 280.4h1.6v1.6h-1.6zM345.44 285.8h1.6v1.6h-1.6zM345.44 302h1.6v1.6h-1.6zM345.44 307.4h1.6v1.6h-1.6zM345.44 312.8h1.6v1.6h-1.6zM345.44 318.2h1.6v1.6h-1.6zM345.44 323.6h1.6v1.6h-1.6zM350.81 264.2h1.6v1.6h-1.6zM350.81 269.6h1.6v1.6h-1.6zM350.81 275h1.6v1.6h-1.6zM350.81 280.4h1.6v1.6h-1.6zM350.81 285.8h1.6v1.6h-1.6zM350.81 302h1.6v1.6h-1.6zM350.81 307.4h1.6v1.6h-1.6zM350.81 312.8h1.6v1.6h-1.6zM350.81 318.2h1.6v1.6h-1.6zM350.81 323.6h1.6v1.6h-1.6zM356.18 264.2h1.6v1.6h-1.6zM356.18 269.6h1.6v1.6h-1.6zM356.18 275h1.6v1.6h-1.6zM356.18 280.4h1.6v1.6h-1.6zM356.18 285.8h1.6v1.6h-1.6zM356.18 302h1.6v1.6h-1.6zM356.18 307.4h1.6v1.6h-1.6zM356.18 312.8h1.6v1.6h-1.6zM356.18 318.2h1.6v1.6h-1.6zM356.18 323.6h1.6v1.6h-1.6zM361.55 264.2h1.6v1.6h-1.6zM361.55 269.6h1.6v1.6h-1.6zM361.55 275h1.6v1.6h-1.6zM361.55 280.4h1.6v1.6h-1.6zM361.55 285.8h1.6v1.6h-1.6zM361.55 302h1.6v1.6h-1.6zM361.55 307.4h1.6v1.6h-1.6zM361.55 312.8h1.6v1.6h-1.6zM361.55 318.2h1.6v1.6h-1.6zM361.55 323.6h1.6v1.6h-1.6zM366.92 264.2h1.6v1.6h-1.6zM366.92 269.6h1.6v1.6h-1.6zM366.92 275h1.6v1.6h-1.6zM366.92 280.4h1.6v1.6h-1.6zM366.92 285.8h1.6v1.6h-1.6zM366.92 302h1.6v1.6h-1.6zM366.92 307.4h1.6v1.6h-1.6zM366.92 312.8h1.6v1.6h-1.6zM366.92 318.2h1.6v1.6h-1.6zM366.92 323.6h1.6v1.6h-1.6zM372.29 264.2h1.6v1.6h-1.6zM372.29 269.6h1.6v1.6h-1.6zM372.29 275h1.6v1.6h-1.6zM372.29 280.4h1.6v1.6h-1.6zM372.29 285.8h1.6v1.6h-1.6zM372.29 302h1.6v1.6h-1.6zM372.29 307.4h1.6v1.6h-1.6zM372.29 312.8h1.6v1.6h-1.6zM372.29 318.2h1.6v1.6h-1.6zM372.29 323.6h1.6v1.6h-1.6zM377.66 264.2h1.6v1.6h-1.6zM377.66 269.6h1.6v1.6h-1.6zM377.66 275h1.6v1.6h-1.6zM377.66 280.4h1.6v1.6h-1.6zM377.66 285.8h1.6v1.6h-1.6zM377.66 302h1.6v1.6h-1.6zM377.66 307.4h1.6v1.6h-1.6zM377.66 312.8h1.6v1.6h-1.6zM377.66 318.2h1.6v1.6h-1.6zM377.66 323.6h1.6v1.6h-1.6zM383.03 264.2h1.6v1.6h-1.6zM383.03 269.6h1.6v1.6h-1.6zM383.03 275h1.6v1.6h-1.6zM383.03 280.4h1.6v1.6h-1.6zM383.03 285.8h1.6v1.6h-1.6zM383.03 302h1.6v1.6h-1.6zM383.03 307.4h1.6v1.6h-1.6zM383.03 312.8h1.6v1.6h-1.6zM383.03 318.2h1.6v1.6h-1.6zM383.03 323.6h1.6v1.6h-1.6zM388.4 264.2h1.6v1.6h-1.6zM388.4 269.6h1.6v1.6h-1.6zM388.4 275h1.6v1.6h-1.6zM388.4 280.4h1.6v1.6h-1.6zM388.4 285.8h1.6v1.6h-1.6zM388.4 302h1.6v1.6h-1.6zM388.4 307.4h1.6v1.6h-1.6zM388.4 312.8h1.6v1.6h-1.6zM388.4 318.2h1.6v1.6h-1.6zM388.4 323.6h1.6v1.6h-1.6zM393.77 264.2h1.6v1.6h-1.6zM393.77 269.6h1.6v1.6h-1.6zM393.77 275h1.6v1.6h-1.6zM393.77 280.4h1.6v1.6h-1.6zM393.77 285.8h1.6v1.6h-1.6zM393.77 302h1.6v1.6h-1.6zM393.77 307.4h1.6v1.6h-1.6zM393.77 312.8h1.6v1.6h-1.6zM393.77 318.2h1.6v1.6h-1.6zM393.77 323.6h1.6v1.6h-1.6zM399.14 264.2h1.6v1.6h-1.6zM399.14 269.6h1.6v1.6h-1.6zM399.14 275h1.6v1.6h-1.6zM399.14 280.4h1.6v1.6h-1.6zM399.14 285.8h1.6v1.6h-1.6zM399.14 302h1.6v1.6h-1.6zM399.14 307.4h1.6v1.6h-1.6zM399.14 312.8h1.6v1.6h-1.6zM399.14 318.2h1.6v1.6h-1.6zM399.14 323.6h1.6v1.6h-1.6zM404.51 264.2h1.6v1.6h-1.6zM404.51 269.6h1.6v1.6h-1.6zM404.51 275h1.6v1.6h-1.6zM404.51 280.4h1.6v1.6h-1.6zM404.51 285.8h1.6v1.6h-1.6zM404.51 302h1.6v1.6h-1.6zM404.51 307.4h1.6v1.6h-1.6zM404.51 312.8h1.6v1.6h-1.6zM404.51 318.2h1.6v1.6h-1.6zM404.51 323.6h1.6v1.6h-1.6zM409.88 264.2h1.6v1.6h-1.6zM409.88 269.6h1.6v1.6h-1.6zM409.88 275h1.6v1.6h-1.6zM409.88 280.4h1.6v1.6h-1.6zM409.88 285.8h1.6v1.6h-1.6zM409.88 302h1.6v1.6h-1.6zM409.88 307.4h1.6v1.6h-1.6zM409.88 312.8h1.6v1.6h-1.6zM409.88 318.2h1.6v1.6h-1.6zM409.88 323.6h1.6v1.6h-1.6zM415.25 264.2h1.6v1.6h-1.6zM415.25 269.6h1.6v1.6h-1.6zM415.25 275h1.6v1.6h-1.6zM415.25 280.4h1.6v1.6h-1.6zM415.25 285.8h1.6v1.6h-1.6zM415.25 302h1.6v1.6h-1.6zM415.25 307.4h1.6v1.6h-1.6zM415.25 312.8h1.6v1.6h-1.6zM415.25 318.2h1.6v1.6h-1.6zM415.25 323.6h1.6v1.6h-1.6zM420.62 264.2h1.6v1.6h-1.6zM420.62 269.6h1.6v1.6h-1.6zM420.62 275h1.6v1.6h-1.6zM420.62 280.4h1.6v1.6h-1.6zM420.62 285.8h1.6v1.6h-1.6zM420.62 302h1.6v1.6h-1.6zM420.62 307.4h1.6v1.6h-1.6zM420.62 312.8h1.6v1.6h-1.6zM420.62 318.2h1.6v1.6h-1.6zM420.62 323.6h1.6v1.6h-1.6zM425.99 264.2h1.6v1.6h-1.6zM425.99 269.6h1.6v1.6h-1.6zM425.99 275h1.6v1.6h-1.6zM425.99 280.4h1.6v1.6h-1.6zM425.99 285.8h1.6v1.6h-1.6zM425.99 302h1.6v1.6h-1.6zM425.99 307.4h1.6v1.6h-1.6zM425.99 312.8h1.6v1.6h-1.6zM425.99 318.2h1.6v1.6h-1.6zM425.99 323.6h1.6v1.6h-1.6zM431.36 264.2h1.6v1.6h-1.6zM431.36 269.6h1.6v1.6h-1.6zM431.36 275h1.6v1.6h-1.6zM431.36 280.4h1.6v1.6h-1.6zM431.36 285.8h1.6v1.6h-1.6zM431.36 302h1.6v1.6h-1.6zM431.36 307.4h1.6v1.6h-1.6zM431.36 312.8h1.6v1.6h-1.6zM431.36 318.2h1.6v1.6h-1.6zM431.36 323.6h1.6v1.6h-1.6zM436.73 264.2h1.6v1.6h-1.6zM436.73 269.6h1.6v1.6h-1.6zM436.73 275h1.6v1.6h-1.6zM436.73 280.4h1.6v1.6h-1.6zM436.73 285.8h1.6v1.6h-1.6zM436.73 302h1.6v1.6h-1.6zM436.73 307.4h1.6v1.6h-1.6zM436.73 312.8h1.6v1.6h-1.6zM436.73 318.2h1.6v1.6h-1.6zM436.73 323.6h1.6v1.6h-1.6zM442.1 264.2h1.6v1.6h-1.6zM442.1 269.6h1.6v1.6h-1.6zM442.1 275h1.6v1.6h-1.6zM442.1 280.4h1.6v1.6h-1.6zM442.1 285.8h1.6v1.6h-1.6zM442.1 302h1.6v1.6h-1.6zM442.1 307.4h1.6v1.6h-1.6zM442.1 312.8h1.6v1.6h-1.6zM442.1 318.2h1.6v1.6h-1.6zM442.1 323.6h1.6v1.6h-1.6zM447.47 264.2h1.6v1.6h-1.6zM447.47 269.6h1.6v1.6h-1.6zM447.47 275h1.6v1.6h-1.6zM447.47 280.4h1.6v1.6h-1.6zM447.47 285.8h1.6v1.6h-1.6zM447.47 302h1.6v1.6h-1.6zM447.47 307.4h1.6v1.6h-1.6zM447.47 312.8h1.6v1.6h-1.6zM447.47 318.2h1.6v1.6h-1.6zM447.47 323.6h1.6v1.6h-1.6zM452.84 264.2h1.6v1.6h-1.6zM452.84 269.6h1.6v1.6h-1.6zM452.84 275h1.6v1.6h-1.6zM452.84 280.4h1.6v1.6h-1.6zM452.84 285.8h1.6v1.6h-1.6zM452.84 302h1.6v1.6h-1.6zM452.84 307.4h1.6v1.6h-1.6zM452.84 312.8h1.6v1.6h-1.6zM452.84 318.2h1.6v1.6h-1.6zM452.84 323.6h1.6v1.6h-1.6zM458.21 264.2h1.6v1.6h-1.6zM458.21 269.6h1.6v1.6h-1.6zM458.21 275h1.6v1.6h-1.6zM458.21 280.4h1.6v1.6h-1.6zM458.21 285.8h1.6v1.6h-1.6zM458.21 302h1.6v1.6h-1.6zM458.21 307.4h1.6v1.6h-1.6zM458.21 312.8h1.6v1.6h-1.6zM458.21 318.2h1.6v1.6h-1.6zM458.21 323.6h1.6v1.6h-1.6zM463.58 264.2h1.6v1.6h-1.6zM463.58 269.6h1.6v1.6h-1.6zM463.58 275h1.6v1.6h-1.6zM463.58 280.4h1.6v1.6h-1.6zM463.58 285.8h1.6v1.6h-1.6zM463.58 302h1.6v1.6h-1.6zM463.58 307.4h1.6v1.6h-1.6zM463.58 312.8h1.6v1.6h-1.6zM463.58 318.2h1.6v1.6h-1.6zM463.58 323.6h1.6v1.6h-1.6zM468.95 264.2h1.6v1.6h-1.6zM468.95 269.6h1.6v1.6h-1.6zM468.95 275h1.6v1.6h-1.6zM468.95 280.4h1.6v1.6h-1.6zM468.95 285.8h1.6v1.6h-1.6zM468.95 302h1.6v1.6h-1.6zM468.95 307.4h1.6v1.6h-1.6zM468.95 312.8h1.6v1.6h-1.6zM468.95 318.2h1.6v1.6h-1.6zM468.95 323.6h1.6v1.6h-1.6zM474.32 264.2h1.6v1.6h-1.6zM474.32 269.6h1.6v1.6h-1.6zM474.32 275h1.6v1.6h-1.6zM474.32 280.4h1.6v1.6h-1.6zM474.32 285.8h1.6v1.6h-1.6zM474.32 302h1.6v1.6h-1.6zM474.32 307.4h1.6v1.6h-1.6zM474.32 312.8h1.6v1.6h-1.6zM474.32 318.2h1.6v1.6h-1.6zM474.32 323.6h1.6v1.6h-1.6zM479.69 264.2h1.6v1.6h-1.6zM479.69 269.6h1.6v1.6h-1.6zM479.69 275h1.6v1.6h-1.6zM479.69 280.4h1.6v1.6h-1.6zM479.69 285.8h1.6v1.6h-1.6zM479.69 302h1.6v1.6h-1.6zM479.69 307.4h1.6v1.6h-1.6zM479.69 312.8h1.6v1.6h-1.6zM479.69 318.2h1.6v1.6h-1.6zM479.69 323.6h1.6v1.6h-1.6zM485.06 264.2h1.6v1.6h-1.6zM485.06 269.6h1.6v1.6h-1.6zM485.06 275h1.6v1.6h-1.6zM485.06 280.4h1.6v1.6h-1.6zM485.06 285.8h1.6v1.6h-1.6zM485.06 302h1.6v1.6h-1.6zM485.06 307.4h1.6v1.6h-1.6zM485.06 312.8h1.6v1.6h-1.6zM485.06 318.2h1.6v1.6h-1.6zM485.06 323.6h1.6v1.6h-1.6zM490.43 264.2h1.6v1.6h-1.6zM490.43 269.6h1.6v1.6h-1.6zM490.43 275h1.6v1.6h-1.6zM490.43 280.4h1.6v1.6h-1.6zM490.43 285.8h1.6v1.6h-1.6zM490.43 302h1.6v1.6h-1.6zM490.43 307.4h1.6v1.6h-1.6zM490.43 312.8h1.6v1.6h-1.6zM490.43 318.2h1.6v1.6h-1.6zM490.43 323.6h1.6v1.6h-1.6zM495.8 264.2h1.6v1.6h-1.6zM495.8 269.6h1.6v1.6h-1.6zM495.8 275h1.6v1.6h-1.6zM495.8 280.4h1.6v1.6h-1.6zM495.8 285.8h1.6v1.6h-1.6zM495.8 302h1.6v1.6h-1.6zM495.8 307.4h1.6v1.6h-1.6zM495.8 312.8h1.6v1.6h-1.6zM495.8 318.2h1.6v1.6h-1.6zM495.8 323.6h1.6v1.6h-1.6zM501.17 264.2h1.6v1.6h-1.6zM501.17 269.6h1.6v1.6h-1.6zM501.17 275h1.6v1.6h-1.6zM501.17 280.4h1.6v1.6h-1.6zM501.17 285.8h1.6v1.6h-1.6zM501.17 302h1.6v1.6h-1.6zM501.17 307.4h1.6v1.6h-1.6zM501.17 312.8h1.6v1.6h-1.6zM501.17 318.2h1.6v1.6h-1.6zM501.17 323.6h1.6v1.6h-1.6zM506.54 264.2h1.6v1.6h-1.6zM506.54 269.6h1.6v1.6h-1.6zM506.54 275h1.6v1.6h-1.6zM506.54 280.4h1.6v1.6h-1.6zM506.54 285.8h1.6v1.6h-1.6zM506.54 302h1.6v1.6h-1.6zM506.54 307.4h1.6v1.6h-1.6zM506.54 312.8h1.6v1.6h-1.6zM506.54 318.2h1.6v1.6h-1.6zM506.54 323.6h1.6v1.6h-1.6zM511.91 264.2h1.6v1.6h-1.6zM511.91 269.6h1.6v1.6h-1.6zM511.91 275h1.6v1.6h-1.6zM511.91 280.4h1.6v1.6h-1.6zM511.91 285.8h1.6v1.6h-1.6zM511.91 302h1.6v1.6h-1.6zM511.91 307.4h1.6v1.6h-1.6zM511.91 312.8h1.6v1.6h-1.6zM511.91 318.2h1.6v1.6h-1.6zM511.91 323.6h1.6v1.6h-1.6zM517.28 264.2h1.6v1.6h-1.6zM517.28 269.6h1.6v1.6h-1.6zM517.28 275h1.6v1.6h-1.6zM517.28 280.4h1.6v1.6h-1.6zM517.28 285.8h1.6v1.6h-1.6zM517.28 302h1.6v1.6h-1.6zM517.28 307.4h1.6v1.6h-1.6zM517.28 312.8h1.6v1.6h-1.6zM517.28 318.2h1.6v1.6h-1.6zM517.28 323.6h1.6v1.6h-1.6zM522.65 264.2h1.6v1.6h-1.6zM522.65 269.6h1.6v1.6h-1.6zM522.65 275h1.6v1.6h-1.6zM522.65 280.4h1.6v1.6h-1.6zM522.65 285.8h1.6v1.6h-1.6zM522.65 302h1.6v1.6h-1.6zM522.65 307.4h1.6v1.6h-1.6zM522.65 312.8h1.6v1.6h-1.6zM522.65 318.2h1.6v1.6h-1.6zM522.65 323.6h1.6v1.6h-1.6zM528.02 264.2h1.6v1.6h-1.6zM528.02 269.6h1.6v1.6h-1.6zM528.02 275h1.6v1.6h-1.6zM528.02 280.4h1.6v1.6h-1.6zM528.02 285.8h1.6v1.6h-1.6zM528.02 302h1.6v1.6h-1.6zM528.02 307.4h1.6v1.6h-1.6zM528.02 312.8h1.6v1.6h-1.6zM528.02 318.2h1.6v1.6h-1.6zM528.02 323.6h1.6v1.6h-1.6zM533.39 264.2h1.6v1.6h-1.6zM533.39 269.6h1.6v1.6h-1.6zM533.39 275h1.6v1.6h-1.6zM533.39 280.4h1.6v1.6h-1.6zM533.39 285.8h1.6v1.6h-1.6zM533.39 302h1.6v1.6h-1.6zM533.39 307.4h1.6v1.6h-1.6zM533.39 312.8h1.6v1.6h-1.6zM533.39 318.2h1.6v1.6h-1.6zM533.39 323.6h1.6v1.6h-1.6zM538.76 264.2h1.6v1.6h-1.6zM538.76 269.6h1.6v1.6h-1.6zM538.76 275h1.6v1.6h-1.6zM538.76 280.4h1.6v1.6h-1.6zM538.76 285.8h1.6v1.6h-1.6zM538.76 302h1.6v1.6h-1.6zM538.76 307.4h1.6v1.6h-1.6zM538.76 312.8h1.6v1.6h-1.6zM538.76 318.2h1.6v1.6h-1.6zM538.76 323.6h1.6v1.6h-1.6zM544.13 264.2h1.6v1.6h-1.6zM544.13 269.6h1.6v1.6h-1.6zM544.13 275h1.6v1.6h-1.6zM544.13 280.4h1.6v1.6h-1.6zM544.13 285.8h1.6v1.6h-1.6zM544.13 302h1.6v1.6h-1.6zM544.13 307.4h1.6v1.6h-1.6zM544.13 312.8h1.6v1.6h-1.6zM544.13 318.2h1.6v1.6h-1.6zM544.13 323.6h1.6v1.6h-1.6zM549.5 264.2h1.6v1.6h-1.6zM549.5 269.6h1.6v1.6h-1.6zM549.5 275h1.6v1.6h-1.6zM549.5 280.4h1.6v1.6h-1.6zM549.5 285.8h1.6v1.6h-1.6zM549.5 302h1.6v1.6h-1.6zM549.5 307.4h1.6v1.6h-1.6zM549.5 312.8h1.6v1.6h-1.6zM549.5 318.2h1.6v1.6h-1.6zM549.5 323.6h1.6v1.6h-1.6zM554.87 264.2h1.6v1.6h-1.6zM554.87 269.6h1.6v1.6h-1.6zM554.87 275h1.6v1.6h-1.6zM554.87 280.4h1.6v1.6h-1.6zM554.87 285.8h1.6v1.6h-1.6zM554.87 302h1.6v1.6h-1.6zM554.87 307.4h1.6v1.6h-1.6zM554.87 312.8h1.6v1.6h-1.6zM554.87 318.2h1.6v1.6h-1.6zM554.87 323.6h1.6v1.6h-1.6zM560.24 264.2h1.6v1.6h-1.6zM560.24 269.6h1.6v1.6h-1.6zM560.24 275h1.6v1.6h-1.6zM560.24 280.4h1.6v1.6h-1.6zM560.24 285.8h1.6v1.6h-1.6zM560.24 302h1.6v1.6h-1.6zM560.24 307.4h1.6v1.6h-1.6zM560.24 312.8h1.6v1.6h-1.6zM560.24 318.2h1.6v1.6h-1.6zM560.24 323.6h1.6v1.6h-1.6zM565.61 264.2h1.6v1.6h-1.6zM565.61 269.6h1.6v1.6h-1.6zM565.61 275h1.6v1.6h-1.6zM565.61 280.4h1.6v1.6h-1.6zM565.61 285.8h1.6v1.6h-1.6zM565.61 302h1.6v1.6h-1.6zM565.61 307.4h1.6v1.6h-1.6zM565.61 312.8h1.6v1.6h-1.6zM565.61 318.2h1.6v1.6h-1.6zM565.61 323.6h1.6v1.6h-1.6zM570.98 264.2h1.6v1.6h-1.6zM570.98 269.6h1.6v1.6h-1.6zM570.98 275h1.6v1.6h-1.6zM570.98 280.4h1.6v1.6h-1.6zM570.98 285.8h1.6v1.6h-1.6zM570.98 302h1.6v1.6h-1.6zM570.98 307.4h1.6v1.6h-1.6zM570.98 312.8h1.6v1.6h-1.6zM570.98 318.2h1.6v1.6h-1.6zM570.98 323.6h1.6v1.6h-1.6zM576.35 264.2h1.6v1.6h-1.6zM576.35 269.6h1.6v1.6h-1.6zM576.35 275h1.6v1.6h-1.6zM576.35 280.4h1.6v1.6h-1.6zM576.35 285.8h1.6v1.6h-1.6zM576.35 302h1.6v1.6h-1.6zM576.35 307.4h1.6v1.6h-1.6zM576.35 312.8h1.6v1.6h-1.6zM576.35 318.2h1.6v1.6h-1.6zM576.35 323.6h1.6v1.6h-1.6zM581.72 264.2h1.6v1.6h-1.6zM581.72 269.6h1.6v1.6h-1.6zM581.72 275h1.6v1.6h-1.6zM581.72 280.4h1.6v1.6h-1.6zM581.72 285.8h1.6v1.6h-1.6zM581.72 302h1.6v1.6h-1.6zM581.72 307.4h1.6v1.6h-1.6zM581.72 312.8h1.6v1.6h-1.6zM581.72 318.2h1.6v1.6h-1.6zM581.72 323.6h1.6v1.6h-1.6zM587.09 264.2h1.6v1.6h-1.6zM587.09 269.6h1.6v1.6h-1.6zM587.09 275h1.6v1.6h-1.6zM587.09 280.4h1.6v1.6h-1.6zM587.09 285.8h1.6v1.6h-1.6zM587.09 302h1.6v1.6h-1.6zM587.09 307.4h1.6v1.6h-1.6zM587.09 312.8h1.6v1.6h-1.6zM587.09 318.2h1.6v1.6h-1.6zM587.09 323.6h1.6v1.6h-1.6zM592.46 264.2h1.6v1.6h-1.6zM592.46 269.6h1.6v1.6h-1.6zM592.46 275h1.6v1.6h-1.6zM592.46 280.4h1.6v1.6h-1.6zM592.46 285.8h1.6v1.6h-1.6zM592.46 302h1.6v1.6h-1.6zM592.46 307.4h1.6v1.6h-1.6zM592.46 312.8h1.6v1.6h-1.6zM592.46 318.2h1.6v1.6h-1.6zM592.46 323.6h1.6v1.6h-1.6zM597.83 264.2h1.6v1.6h-1.6zM597.83 269.6h1.6v1.6h-1.6zM597.83 275h1.6v1.6h-1.6zM597.83 280.4h1.6v1.6h-1.6zM597.83 285.8h1.6v1.6h-1.6zM597.83 302h1.6v1.6h-1.6zM597.83 307.4h1.6v1.6h-1.6zM597.83 312.8h1.6v1.6h-1.6zM597.83 318.2h1.6v1.6h-1.6zM597.83 323.6h1.6v1.6h-1.6zM603.2 264.2h1.6v1.6h-1.6zM603.2 269.6h1.6v1.6h-1.6zM603.2 275h1.6v1.6h-1.6zM603.2 280.4h1.6v1.6h-1.6zM603.2 285.8h1.6v1.6h-1.6zM603.2 302h1.6v1.6h-1.6zM603.2 307.4h1.6v1.6h-1.6zM603.2 312.8h1.6v1.6h-1.6zM603.2 318.2h1.6v1.6h-1.6zM603.2 323.6h1.6v1.6h-1.6zM608.57 264.2h1.6v1.6h-1.6zM608.57 269.6h1.6v1.6h-1.6zM608.57 275h1.6v1.6h-1.6zM608.57 280.4h1.6v1.6h-1.6zM608.57 285.8h1.6v1.6h-1.6zM608.57 302h1.6v1.6h-1.6zM608.57 307.4h1.6v1.6h-1.6zM608.57 312.8h1.6v1.6h-1.6zM608.57 318.2h1.6v1.6h-1.6zM608.57 323.6h1.6v1.6h-1.6zM613.94 264.2h1.6v1.6h-1.6zM613.94 269.6h1.6v1.6h-1.6zM613.94 275h1.6v1.6h-1.6zM613.94 280.4h1.6v1.6h-1.6zM613.94 285.8h1.6v1.6h-1.6zM613.94 302h1.6v1.6h-1.6zM613.94 307.4h1.6v1.6h-1.6zM613.94 312.8h1.6v1.6h-1.6zM613.94 318.2h1.6v1.6h-1.6zM613.94 323.6h1.6v1.6h-1.6zM619.31 264.2h1.6v1.6h-1.6zM619.31 269.6h1.6v1.6h-1.6zM619.31 275h1.6v1.6h-1.6zM619.31 280.4h1.6v1.6h-1.6zM619.31 285.8h1.6v1.6h-1.6zM619.31 302h1.6v1.6h-1.6zM619.31 307.4h1.6v1.6h-1.6zM619.31 312.8h1.6v1.6h-1.6zM619.31 318.2h1.6v1.6h-1.6zM619.31 323.6h1.6v1.6h-1.6zM624.68 264.2h1.6v1.6h-1.6zM624.68 269.6h1.6v1.6h-1.6zM624.68 275h1.6v1.6h-1.6zM624.68 280.4h1.6v1.6h-1.6zM624.68 285.8h1.6v1.6h-1.6zM624.68 302h1.6v1.6h-1.6zM624.68 307.4h1.6v1.6h-1.6zM624.68 312.8h1.6v1.6h-1.6zM624.68 318.2h1.6v1.6h-1.6zM624.68 323.6h1.6v1.6h-1.6zM630.05 264.2h1.6v1.6h-1.6zM630.05 269.6h1.6v1.6h-1.6zM630.05 275h1.6v1.6h-1.6zM630.05 280.4h1.6v1.6h-1.6zM630.05 285.8h1.6v1.6h-1.6zM630.05 302h1.6v1.6h-1.6zM630.05 307.4h1.6v1.6h-1.6zM630.05 312.8h1.6v1.6h-1.6zM630.05 318.2h1.6v1.6h-1.6zM630.05 323.6h1.6v1.6h-1.6zM635.42 264.2h1.6v1.6h-1.6zM635.42 269.6h1.6v1.6h-1.6zM635.42 275h1.6v1.6h-1.6zM635.42 280.4h1.6v1.6h-1.6zM635.42 285.8h1.6v1.6h-1.6zM635.42 302h1.6v1.6h-1.6zM635.42 307.4h1.6v1.6h-1.6zM635.42 312.8h1.6v1.6h-1.6zM635.42 318.2h1.6v1.6h-1.6zM635.42 323.6h1.6v1.6h-1.6zM640.79 264.2h1.6v1.6h-1.6zM640.79 269.6h1.6v1.6h-1.6zM640.79 275h1.6v1.6h-1.6zM640.79 280.4h1.6v1.6h-1.6zM640.79 285.8h1.6v1.6h-1.6zM640.79 302h1.6v1.6h-1.6zM640.79 307.4h1.6v1.6h-1.6zM640.79 312.8h1.6v1.6h-1.6zM640.79 318.2h1.6v1.6h-1.6zM640.79 323.6h1.6v1.6h-1.6zM646.16 264.2h1.6v1.6h-1.6zM646.16 269.6h1.6v1.6h-1.6zM646.16 275h1.6v1.6h-1.6zM646.16 280.4h1.6v1.6h-1.6zM646.16 285.8h1.6v1.6h-1.6zM646.16 302h1.6v1.6h-1.6zM646.16 307.4h1.6v1.6h-1.6zM646.16 312.8h1.6v1.6h-1.6zM646.16 318.2h1.6v1.6h-1.6zM646.16 323.6h1.6v1.6h-1.6zM651.53 264.2h1.6v1.6h-1.6zM651.53 269.6h1.6v1.6h-1.6zM651.53 275h1.6v1.6h-1.6zM651.53 280.4h1.6v1.6h-1.6zM651.53 285.8h1.6v1.6h-1.6zM651.53 302h1.6v1.6h-1.6zM651.53 307.4h1.6v1.6h-1.6zM651.53 312.8h1.6v1.6h-1.6zM651.53 318.2h1.6v1.6h-1.6zM651.53 323.6h1.6v1.6h-1.6zM656.9 264.2h1.6v1.6h-1.6zM656.9 269.6h1.6v1.6h-1.6zM656.9 275h1.6v1.6h-1.6zM656.9 280.4h1.6v1.6h-1.6zM656.9 285.8h1.6v1.6h-1.6zM656.9 302h1.6v1.6h-1.6zM656.9 307.4h1.6v1.6h-1.6zM656.9 312.8h1.6v1.6h-1.6zM656.9 318.2h1.6v1.6h-1.6zM656.9 323.6h1.6v1.6h-1.6zM662.27 264.2h1.6v1.6h-1.6zM662.27 269.6h1.6v1.6h-1.6zM662.27 275h1.6v1.6h-1.6zM662.27 280.4h1.6v1.6h-1.6zM662.27 285.8h1.6v1.6h-1.6zM662.27 302h1.6v1.6h-1.6zM662.27 307.4h1.6v1.6h-1.6zM662.27 312.8h1.6v1.6h-1.6zM662.27 318.2h1.6v1.6h-1.6zM662.27 323.6h1.6v1.6h-1.6zM334.7 242.7h1.6v1.6h-1.6zM334.7 248.1h1.6v1.6h-1.6zM334.7 339.2h1.6v1.6h-1.6zM334.7 344.6h1.6v1.6h-1.6zM340.07 242.7h1.6v1.6h-1.6zM340.07 248.1h1.6v1.6h-1.6zM340.07 339.2h1.6v1.6h-1.6zM340.07 344.6h1.6v1.6h-1.6zM345.44 242.7h1.6v1.6h-1.6zM345.44 248.1h1.6v1.6h-1.6zM345.44 339.2h1.6v1.6h-1.6zM345.44 344.6h1.6v1.6h-1.6zM350.81 242.7h1.6v1.6h-1.6zM350.81 248.1h1.6v1.6h-1.6zM350.81 339.2h1.6v1.6h-1.6zM350.81 344.6h1.6v1.6h-1.6zM356.18 242.7h1.6v1.6h-1.6zM356.18 248.1h1.6v1.6h-1.6zM356.18 339.2h1.6v1.6h-1.6zM356.18 344.6h1.6v1.6h-1.6zM366.92 242.7h1.6v1.6h-1.6zM366.92 248.1h1.6v1.6h-1.6zM366.92 339.2h1.6v1.6h-1.6zM366.92 344.6h1.6v1.6h-1.6zM372.29 242.7h1.6v1.6h-1.6zM372.29 248.1h1.6v1.6h-1.6zM372.29 339.2h1.6v1.6h-1.6zM372.29 344.6h1.6v1.6h-1.6zM377.66 242.7h1.6v1.6h-1.6zM377.66 248.1h1.6v1.6h-1.6zM377.66 339.2h1.6v1.6h-1.6zM377.66 344.6h1.6v1.6h-1.6zM383.03 242.7h1.6v1.6h-1.6zM383.03 248.1h1.6v1.6h-1.6zM383.03 339.2h1.6v1.6h-1.6zM383.03 344.6h1.6v1.6h-1.6zM388.4 242.7h1.6v1.6h-1.6zM388.4 248.1h1.6v1.6h-1.6zM388.4 339.2h1.6v1.6h-1.6zM388.4 344.6h1.6v1.6h-1.6zM399.14 242.7h1.6v1.6h-1.6zM399.14 248.1h1.6v1.6h-1.6zM399.14 339.2h1.6v1.6h-1.6zM399.14 344.6h1.6v1.6h-1.6zM404.51 242.7h1.6v1.6h-1.6zM404.51 248.1h1.6v1.6h-1.6zM404.51 339.2h1.6v1.6h-1.6zM404.51 344.6h1.6v1.6h-1.6zM409.88 242.7h1.6v1.6h-1.6zM409.88 248.1h1.6v1.6h-1.6zM409.88 339.2h1.6v1.6h-1.6zM409.88 344.6h1.6v1.6h-1.6zM415.25 242.7h1.6v1.6h-1.6zM415.25 248.1h1.6v1.6h-1.6zM415.25 339.2h1.6v1.6h-1.6zM415.25 344.6h1.6v1.6h-1.6zM420.62 242.7h1.6v1.6h-1.6zM420.62 248.1h1.6v1.6h-1.6zM420.62 339.2h1.6v1.6h-1.6zM420.62 344.6h1.6v1.6h-1.6zM431.36 242.7h1.6v1.6h-1.6zM431.36 248.1h1.6v1.6h-1.6zM431.36 339.2h1.6v1.6h-1.6zM431.36 344.6h1.6v1.6h-1.6zM436.73 242.7h1.6v1.6h-1.6zM436.73 248.1h1.6v1.6h-1.6zM436.73 339.2h1.6v1.6h-1.6zM436.73 344.6h1.6v1.6h-1.6zM442.1 242.7h1.6v1.6h-1.6zM442.1 248.1h1.6v1.6h-1.6zM442.1 339.2h1.6v1.6h-1.6zM442.1 344.6h1.6v1.6h-1.6zM447.47 242.7h1.6v1.6h-1.6zM447.47 248.1h1.6v1.6h-1.6zM447.47 339.2h1.6v1.6h-1.6zM447.47 344.6h1.6v1.6h-1.6zM452.84 242.7h1.6v1.6h-1.6zM452.84 248.1h1.6v1.6h-1.6zM452.84 339.2h1.6v1.6h-1.6zM452.84 344.6h1.6v1.6h-1.6zM463.58 242.7h1.6v1.6h-1.6zM463.58 248.1h1.6v1.6h-1.6zM463.58 339.2h1.6v1.6h-1.6zM463.58 344.6h1.6v1.6h-1.6zM468.95 242.7h1.6v1.6h-1.6zM468.95 248.1h1.6v1.6h-1.6zM468.95 339.2h1.6v1.6h-1.6zM468.95 344.6h1.6v1.6h-1.6zM474.32 242.7h1.6v1.6h-1.6zM474.32 248.1h1.6v1.6h-1.6zM474.32 339.2h1.6v1.6h-1.6zM474.32 344.6h1.6v1.6h-1.6zM479.69 242.7h1.6v1.6h-1.6zM479.69 248.1h1.6v1.6h-1.6zM479.69 339.2h1.6v1.6h-1.6zM479.69 344.6h1.6v1.6h-1.6zM485.06 242.7h1.6v1.6h-1.6zM485.06 248.1h1.6v1.6h-1.6zM485.06 339.2h1.6v1.6h-1.6zM485.06 344.6h1.6v1.6h-1.6zM501.17 242.7h1.6v1.6h-1.6zM501.17 248.1h1.6v1.6h-1.6zM501.17 339.2h1.6v1.6h-1.6zM501.17 344.6h1.6v1.6h-1.6zM506.54 242.7h1.6v1.6h-1.6zM506.54 248.1h1.6v1.6h-1.6zM506.54 339.2h1.6v1.6h-1.6zM506.54 344.6h1.6v1.6h-1.6zM511.91 242.7h1.6v1.6h-1.6zM511.91 248.1h1.6v1.6h-1.6zM511.91 339.2h1.6v1.6h-1.6zM511.91 344.6h1.6v1.6h-1.6zM517.28 242.7h1.6v1.6h-1.6zM517.28 248.1h1.6v1.6h-1.6zM517.28 339.2h1.6v1.6h-1.6zM517.28 344.6h1.6v1.6h-1.6zM522.65 242.7h1.6v1.6h-1.6zM522.65 248.1h1.6v1.6h-1.6zM522.65 339.2h1.6v1.6h-1.6zM522.65 344.6h1.6v1.6h-1.6zM533.39 242.7h1.6v1.6h-1.6zM533.39 248.1h1.6v1.6h-1.6zM533.39 339.2h1.6v1.6h-1.6zM533.39 344.6h1.6v1.6h-1.6zM538.76 242.7h1.6v1.6h-1.6zM538.76 248.1h1.6v1.6h-1.6zM538.76 339.2h1.6v1.6h-1.6zM538.76 344.6h1.6v1.6h-1.6zM544.13 242.7h1.6v1.6h-1.6zM544.13 248.1h1.6v1.6h-1.6zM544.13 339.2h1.6v1.6h-1.6zM544.13 344.6h1.6v1.6h-1.6zM549.5 242.7h1.6v1.6h-1.6zM549.5 248.1h1.6v1.6h-1.6zM549.5 339.2h1.6v1.6h-1.6zM549.5 344.6h1.6v1.6h-1.6zM554.87 242.7h1.6v1.6h-1.6zM554.87 248.1h1.6v1.6h-1.6zM554.87 339.2h1.6v1.6h-1.6zM554.87 344.6h1.6v1.6h-1.6zM565.61 242.7h1.6v1.6h-1.6zM565.61 248.1h1.6v1.6h-1.6zM565.61 339.2h1.6v1.6h-1.6zM565.61 344.6h1.6v1.6h-1.6zM570.98 242.7h1.6v1.6h-1.6zM570.98 248.1h1.6v1.6h-1.6zM570.98 339.2h1.6v1.6h-1.6zM570.98 344.6h1.6v1.6h-1.6zM576.35 242.7h1.6v1.6h-1.6zM576.35 248.1h1.6v1.6h-1.6zM576.35 339.2h1.6v1.6h-1.6zM576.35 344.6h1.6v1.6h-1.6zM581.72 242.7h1.6v1.6h-1.6zM581.72 248.1h1.6v1.6h-1.6zM581.72 339.2h1.6v1.6h-1.6zM581.72 344.6h1.6v1.6h-1.6zM587.09 242.7h1.6v1.6h-1.6zM587.09 248.1h1.6v1.6h-1.6zM587.09 339.2h1.6v1.6h-1.6zM587.09 344.6h1.6v1.6h-1.6zM597.83 242.7h1.6v1.6h-1.6zM597.83 248.1h1.6v1.6h-1.6zM597.83 339.2h1.6v1.6h-1.6zM597.83 344.6h1.6v1.6h-1.6zM603.2 242.7h1.6v1.6h-1.6zM603.2 248.1h1.6v1.6h-1.6zM603.2 339.2h1.6v1.6h-1.6zM603.2 344.6h1.6v1.6h-1.6zM608.57 242.7h1.6v1.6h-1.6zM608.57 248.1h1.6v1.6h-1.6zM608.57 339.2h1.6v1.6h-1.6zM608.57 344.6h1.6v1.6h-1.6zM613.94 242.7h1.6v1.6h-1.6zM613.94 248.1h1.6v1.6h-1.6zM613.94 339.2h1.6v1.6h-1.6zM613.94 344.6h1.6v1.6h-1.6zM619.31 242.7h1.6v1.6h-1.6zM619.31 248.1h1.6v1.6h-1.6zM619.31 339.2h1.6v1.6h-1.6zM619.31 344.6h1.6v1.6h-1.6zM630.05 242.7h1.6v1.6h-1.6zM630.05 248.1h1.6v1.6h-1.6zM630.05 339.2h1.6v1.6h-1.6zM630.05 344.6h1.6v1.6h-1.6zM635.42 242.7h1.6v1.6h-1.6zM635.42 248.1h1.6v1.6h-1.6zM635.42 339.2h1.6v1.6h-1.6zM635.42 344.6h1.6v1.6h-1.6zM640.79 242.7h1.6v1.6h-1.6zM640.79 248.1h1.6v1.6h-1.6zM640.79 339.2h1.6v1.6h-1.6zM640.79 344.6h1.6v1.6h-1.6zM646.16 242.7h1.6v1.6h-1.6zM646.16 248.1h1.6v1.6h-1.6zM646.16 339.2h1.6v1.6h-1.6zM646.16 344.6h1.6v1.6h-1.6zM651.53 242.7h1.6v1.6h-1.6zM651.53 248.1h1.6v1.6h-1.6zM651.53 339.2h1.6v1.6h-1.6zM651.53 344.6h1.6v1.6h-1.6z" fill="#3a3a3a"/>
<line x1="328.3" y1="243.5" x2="331.8" y2="243.5" stroke="#9cc0e0" stroke-width="0.8"/>
<line x1="328.3" y1="340" x2="331.8" y2="340" stroke="#9cc0e0" stroke-width="0.8"/>
<line x1="656.5" y1="243.5" x2="660" y2="243.5" stroke="#9cc0e0" stroke-width="0.8"/>
<g font-family="Liberation Sans" font-size="4.5" fill="#a6a6a6"><text x="335.5" y="261.7" text-anchor="middle">1</text><text x="335.5" y="331.4" text-anchor="middle">1</text><text x="356.98" y="261.7" text-anchor="middle">5</text><text x="356.98" y="331.4" text-anchor="middle">5</text><text x="383.83" y="261.7" text-anchor="middle">10</text><text x="383.83" y="331.4" text-anchor="middle">10</text><text x="410.68" y="261.7" text-anchor="middle">15</text><text x="410.68" y="331.4" text-anchor="middle">15</text><text x="437.53" y="261.7" text-anchor="middle">20</text><text x="437.53" y="331.4" text-anchor="middle">20</text><text x="464.38" y="261.7" text-anchor="middle">25</text><text x="464.38" y="331.4" text-anchor="middle">25</text><text x="491.23" y="261.7" text-anchor="middle">30</text><text x="491.23" y="331.4" text-anchor="middle">30</text><text x="518.08" y="261.7" text-anchor="middle">35</text><text x="518.08" y="331.4" text-anchor="middle">35</text><text x="544.93" y="261.7" text-anchor="middle">40</text><text x="544.93" y="331.4" text-anchor="middle">40</text><text x="571.78" y="261.7" text-anchor="middle">45</text><text x="571.78" y="331.4" text-anchor="middle">45</text><text x="598.63" y="261.7" text-anchor="middle">50</text><text x="598.63" y="331.4" text-anchor="middle">50</text><text x="625.48" y="261.7" text-anchor="middle">55</text><text x="625.48" y="331.4" text-anchor="middle">55</text><text x="652.33" y="261.7" text-anchor="middle">60</text><text x="652.33" y="331.4" text-anchor="middle">60</text></g>
<g font-family="Liberation Sans" font-size="3.9" fill="#b6b6b6"><text x="319.4" y="266.4" text-anchor="middle">A</text><text x="668.4" y="266.4" text-anchor="middle">A</text><text x="319.4" y="271.8" text-anchor="middle">B</text><text x="668.4" y="271.8" text-anchor="middle">B</text><text x="319.4" y="277.2" text-anchor="middle">C</text><text x="668.4" y="277.2" text-anchor="middle">C</text><text x="319.4" y="282.6" text-anchor="middle">D</text><text x="668.4" y="282.6" text-anchor="middle">D</text><text x="319.4" y="288" text-anchor="middle">E</text><text x="668.4" y="288" text-anchor="middle">E</text><text x="319.4" y="304.2" text-anchor="middle">F</text><text x="668.4" y="304.2" text-anchor="middle">F</text><text x="319.4" y="309.6" text-anchor="middle">G</text><text x="668.4" y="309.6" text-anchor="middle">G</text><text x="319.4" y="315" text-anchor="middle">H</text><text x="668.4" y="315" text-anchor="middle">H</text><text x="319.4" y="320.4" text-anchor="middle">I</text><text x="668.4" y="320.4" text-anchor="middle">I</text><text x="319.4" y="325.8" text-anchor="middle">J</text><text x="668.4" y="325.8" text-anchor="middle">J</text></g>
<rect x="334.47" y="288" width="12.8" height="12.8" fill="#cdcdcd" stroke="#c2c2c2" stroke-width="0.6"/>
<circle cx="336.17" cy="289.8" r="1.4" fill="#3a3a3a"/>
<circle cx="336.17" cy="299" r="1.4" fill="#3a3a3a"/>
<circle cx="345.57" cy="289.8" r="1.4" fill="#3a3a3a"/>
<circle cx="345.57" cy="299" r="1.4" fill="#3a3a3a"/>
<circle cx="340.87" cy="294.4" r="3.6" fill="#333333"/>
<rect x="366.69" y="288" width="12.8" height="12.8" fill="#cdcdcd" stroke="#c2c2c2" stroke-width="0.6"/>
<circle cx="368.39" cy="289.8" r="1.4" fill="#3a3a3a"/>
<circle cx="368.39" cy="299" r="1.4" fill="#3a3a3a"/>
<circle cx="377.79" cy="289.8" r="1.4" fill="#3a3a3a"/>
<circle cx="377.79" cy="299" r="1.4" fill="#3a3a3a"/>
<circle cx="373.09" cy="294.4" r="3.6" fill="#333333"/>
<rect x="398.91" y="288" width="12.8" height="12.8" fill="#cdcdcd" stroke="#c2c2c2" stroke-width="0.6"/>
<circle cx="400.61" cy="289.8" r="1.4" fill="#3a3a3a"/>
<circle cx="400.61" cy="299" r="1.4" fill="#3a3a3a"/>
<circle cx="410.01" cy="289.8" r="1.4" fill="#3a3a3a"/>
<circle cx="410.01" cy="299" r="1.4" fill="#3a3a3a"/>
<circle cx="405.31" cy="294.4" r="3.6" fill="#333333"/>
<rect x="431.13" y="288" width="12.8" height="12.8" fill="#cdcdcd" stroke="#c2c2c2" stroke-width="0.6"/>
<circle cx="432.83" cy="289.8" r="1.4" fill="#3a3a3a"/>
<circle cx="432.83" cy="299" r="1.4" fill="#3a3a3a"/>
<circle cx="442.23" cy="289.8" r="1.4" fill="#3a3a3a"/>
<circle cx="442.23" cy="299" r="1.4" fill="#3a3a3a"/>
<circle cx="437.53" cy="294.4" r="3.6" fill="#333333"/>
<rect x="463.35" y="288" width="12.8" height="12.8" fill="#cdcdcd" stroke="#c2c2c2" stroke-width="0.6"/>
<circle cx="465.05" cy="289.8" r="1.4" fill="#3a3a3a"/>
<circle cx="465.05" cy="299" r="1.4" fill="#3a3a3a"/>
<circle cx="474.45" cy="289.8" r="1.4" fill="#3a3a3a"/>
<circle cx="474.45" cy="299" r="1.4" fill="#3a3a3a"/>
<circle cx="469.75" cy="294.4" r="3.6" fill="#333333"/>
<line x1="496.53" y1="286.3" x2="496.53" y2="291" stroke="#8a8a8a" stroke-width="0.9"/>
<line x1="495.53" y1="286.3" x2="497.53" y2="286.3" stroke="#8a8a8a" stroke-width="0.7"/>
<line x1="501.9" y1="286.3" x2="501.9" y2="291" stroke="#8a8a8a" stroke-width="0.9"/>
<line x1="500.9" y1="286.3" x2="502.9" y2="286.3" stroke="#8a8a8a" stroke-width="0.7"/>
<line x1="507.27" y1="286.3" x2="507.27" y2="291" stroke="#8a8a8a" stroke-width="0.9"/>
<line x1="506.27" y1="286.3" x2="508.27" y2="286.3" stroke="#8a8a8a" stroke-width="0.7"/>
<circle cx="501.9" cy="302.4" r="12.6" fill="#1f3a52"/>
<circle cx="494.12" cy="294.62" r="0.8" fill="#3f709b"/>
<circle cx="490.9" cy="302.4" r="0.8" fill="#3f709b"/>
<circle cx="494.12" cy="310.18" r="0.8" fill="#3f709b"/>
<circle cx="501.9" cy="313.4" r="0.8" fill="#3f709b"/>
<circle cx="509.68" cy="310.18" r="0.8" fill="#3f709b"/>
<circle cx="512.9" cy="302.4" r="0.8" fill="#3f709b"/>
<circle cx="501.9" cy="302.4" r="8.1" fill="#6097cf" stroke="#28496a" stroke-width="0.5"/>
<line x1="503.2" y1="301" x2="509" y2="295.8" stroke="#1c3249" stroke-width="2.1" stroke-linecap="butt"/>
<line x1="346.24" y1="318.8" x2="346.24" y2="339.6" stroke="#8a8a8a" stroke-width="0.8"/>
<path d="M345.04 321.6C344.04 321.9 343.54 322.8 343.54 324L343.54 326.2 L344.14 327 L344.14 331.4 L343.54 332.4L343.54 335 C343.54 336.2 344.64 337.2 346.24 337.2C347.84 337.2 348.94 336.2 348.94 335L348.94 332.4 L348.34 331.4 L348.34 327 L348.94 326.2L348.94 324 C348.94 322.8 348.44 321.9 347.44 321.6 Z" fill="#e2c48a"/>
<rect x="343.64" y="323.75" width="5.2" height="1.3" fill="#cdbd6a"/>
<rect x="344.14" y="327.85" width="4.2" height="1.5" fill="#80461a"/>
<rect x="344.14" y="330.8" width="4.2" height="1.2" fill="#f7900a"/>
<rect x="343.59" y="333.5" width="5.3" height="1.6" fill="#f88a06"/>
<line x1="378.46" y1="318.8" x2="378.46" y2="339.6" stroke="#8a8a8a" stroke-width="0.8"/>
<path d="M377.26 321.6C376.26 321.9 375.76 322.8 375.76 324L375.76 326.2 L376.36 327 L376.36 331.4 L375.76 332.4L375.76 335 C375.76 336.2 376.86 337.2 378.46 337.2C380.06 337.2 381.16 336.2 381.16 335L381.16 332.4 L380.56 331.4 L380.56 327 L381.16 326.2L381.16 324 C381.16 322.8 380.66 321.9 379.66 321.6 Z" fill="#e2c48a"/>
<rect x="375.86" y="323.75" width="5.2" height="1.3" fill="#cdbd6a"/>
<rect x="376.36" y="327.85" width="4.2" height="1.5" fill="#80461a"/>
<rect x="376.36" y="330.8" width="4.2" height="1.2" fill="#f7900a"/>
<rect x="375.81" y="333.5" width="5.3" height="1.6" fill="#f88a06"/>
<line x1="410.68" y1="318.8" x2="410.68" y2="339.6" stroke="#8a8a8a" stroke-width="0.8"/>
<path d="M409.48 321.6C408.48 321.9 407.98 322.8 407.98 324L407.98 326.2 L408.58 327 L408.58 331.4 L407.98 332.4L407.98 335 C407.98 336.2 409.08 337.2 410.68 337.2C412.28 337.2 413.38 336.2 413.38 335L413.38 332.4 L412.78 331.4 L412.78 327 L413.38 326.2L413.38 324 C413.38 322.8 412.88 321.9 411.88 321.6 Z" fill="#e2c48a"/>
<rect x="408.08" y="323.75" width="5.2" height="1.3" fill="#cdbd6a"/>
<rect x="408.58" y="327.85" width="4.2" height="1.5" fill="#80461a"/>
<rect x="408.58" y="330.8" width="4.2" height="1.2" fill="#f7900a"/>
<rect x="408.03" y="333.5" width="5.3" height="1.6" fill="#f88a06"/>
<line x1="442.9" y1="318.8" x2="442.9" y2="339.6" stroke="#8a8a8a" stroke-width="0.8"/>
<path d="M441.7 321.6C440.7 321.9 440.2 322.8 440.2 324L440.2 326.2 L440.8 327 L440.8 331.4 L440.2 332.4L440.2 335 C440.2 336.2 441.3 337.2 442.9 337.2C444.5 337.2 445.6 336.2 445.6 335L445.6 332.4 L445 331.4 L445 327 L445.6 326.2L445.6 324 C445.6 322.8 445.1 321.9 444.1 321.6 Z" fill="#e2c48a"/>
<rect x="440.3" y="323.75" width="5.2" height="1.3" fill="#cdbd6a"/>
<rect x="440.8" y="327.85" width="4.2" height="1.5" fill="#80461a"/>
<rect x="440.8" y="330.8" width="4.2" height="1.2" fill="#f7900a"/>
<rect x="440.25" y="333.5" width="5.3" height="1.6" fill="#f88a06"/>
<line x1="475.12" y1="318.8" x2="475.12" y2="339.6" stroke="#8a8a8a" stroke-width="0.8"/>
<path d="M473.92 321.6C472.92 321.9 472.42 322.8 472.42 324L472.42 326.2 L473.02 327 L473.02 331.4 L472.42 332.4L472.42 335 C472.42 336.2 473.52 337.2 475.12 337.2C476.72 337.2 477.82 336.2 477.82 335L477.82 332.4 L477.22 331.4 L477.22 327 L477.82 326.2L477.82 324 C477.82 322.8 477.32 321.9 476.32 321.6 Z" fill="#e2c48a"/>
<rect x="472.52" y="323.75" width="5.2" height="1.3" fill="#cdbd6a"/>
<rect x="473.02" y="327.85" width="4.2" height="1.5" fill="#80461a"/>
<rect x="473.02" y="330.8" width="4.2" height="1.2" fill="#f7900a"/>
<rect x="472.47" y="333.5" width="5.3" height="1.6" fill="#f88a06"/>
<line x1="609.37" y1="248.9" x2="609.37" y2="270.4" stroke="#8a8a8a" stroke-width="0.8"/>
<path d="M608.17 251.7C607.17 252 606.67 252.9 606.67 254.1L606.67 256.3 L607.27 257.1 L607.27 262.2 L606.67 263.2L606.67 265.8 C606.67 267 607.77 268 609.37 268C610.97 268 612.07 267 612.07 265.8L612.07 263.2 L611.47 262.2 L611.47 257.1 L612.07 256.3L612.07 254.1 C612.07 252.9 611.57 252 610.57 251.7 Z" fill="#e2c48a"/>
<rect x="606.77" y="254.25" width="5.2" height="1.3" fill="#cdbd6a"/>
<rect x="607.27" y="257.95" width="4.2" height="1.5" fill="#80461a"/>
<rect x="607.27" y="260.9" width="4.2" height="1.2" fill="#e8161a"/>
<rect x="606.72" y="263.5" width="5.3" height="1.6" fill="#e8161a"/>
<path d="M41.5 255.8h6.5v11.2h-6.5a5.6 5.6 0 0 1 0-11.2z" fill="#3a3a3a"/>
<rect x="47.6" y="255.2" width="16.6" height="12.9" fill="#3b3b3b"/>
<rect x="50.5" y="255.6" width="1.4" height="12.1" fill="#262626"/><rect x="59.9" y="255.6" width="1.8" height="12.1" fill="#262626"/>
<rect x="53" y="255.6" width="5.6" height="12.1" fill="#434343"/>
<path d="M64 251.1H68.2V248.8L69.4 247.6H112.2V275.8H69.4L68.2 274.6V271.7H64Z" fill="#3d3d3d"/>
<rect x="81.6" y="252.9" width="25.8" height="16.4" fill="#303030"/>
<g stroke="#555" stroke-width="0.7" fill="none"><path d="M84.5 261.7H101.5M94 261.7L90.6 258.2H89.2M96.6 261.7L93.6 264.6H92.6"/></g>
<circle cx="101.5" cy="261.7" r="1.3" fill="#555"/><circle cx="88.6" cy="258.2" r="0.9" fill="#555"/><rect x="91.3" y="263.7" width="1.8" height="1.8" fill="#555"/>
<defs><linearGradient id="met" x1="0" y1="0" x2="0" y2="1"><stop offset="0" stop-color="#cdcdcd"/><stop offset="0.5" stop-color="#d6d6d6"/><stop offset="0.52" stop-color="#c4c4c4"/><stop offset="1" stop-color="#bdbdbd"/></linearGradient></defs>
<rect x="112.2" y="252.2" width="25.4" height="18.3" rx="0.6" fill="url(#met)"/>
<path d="M156 224.3H291.1L293.8 226.9V252.1L299.9 257.1V327.3L294.4 332.2V337.7H156Q154.2 337.7 154.2 336V226Q154.2 224.3 156 224.3Z" fill="#306c9a"/>
<circle cx="161.5" cy="247.8" r="3.2" fill="#e6e6e6"/>
<circle cx="161.5" cy="274.5" r="3.2" fill="#e6e6e6"/>
<rect x="139.7" y="248" width="36" height="26" fill="#dcdcdc"/>
<rect x="160.9" y="229" width="13.9" height="13.7" fill="#285d88"/>
<rect x="158.9" y="229.65" width="2.4" height="1.9" rx="0.5" fill="#e2e2e2"/>
<rect x="158.9" y="234.15" width="2.4" height="1.9" rx="0.5" fill="#e2e2e2"/>
<rect x="158.9" y="238.65" width="2.4" height="1.9" rx="0.5" fill="#e2e2e2"/>
<rect x="174.4" y="229.65" width="2.2" height="1.9" rx="0.5" fill="#e2e2e2"/>
<rect x="174.4" y="238.65" width="2.2" height="1.9" rx="0.5" fill="#e2e2e2"/>
<rect x="160.9" y="228.3" width="13.9" height="13.6" fill="#e4e4e4"/>
<circle cx="167.6" cy="235.2" r="3.8" fill="#bf4a2e"/>
<circle cx="186.4" cy="229.9" r="2.9" fill="#000" stroke="#cdb762" stroke-width="0.7"/>
<circle cx="294.2" cy="262" r="2.9" fill="#000" stroke="#cdb762" stroke-width="0.7"/>
<circle cx="294.2" cy="321" r="2.9" fill="#000" stroke="#cdb762" stroke-width="0.7"/>
<circle cx="183.9" cy="332.1" r="2.9" fill="#000" stroke="#cdb762" stroke-width="0.7"/>
<rect x="191.2" y="227.5" width="54.2" height="4.8" fill="#2e2e2e"/>
<path d="M192.61 228.6h2.6v2.6h-2.6zM198.03 228.6h2.6v2.6h-2.6zM203.45 228.6h2.6v2.6h-2.6zM208.87 228.6h2.6v2.6h-2.6zM214.29 228.6h2.6v2.6h-2.6zM219.71 228.6h2.6v2.6h-2.6zM225.13 228.6h2.6v2.6h-2.6zM230.55 228.6h2.6v2.6h-2.6zM235.97 228.6h2.6v2.6h-2.6zM241.39 228.6h2.6v2.6h-2.6z" fill="#202020"/>
<path d="M192.61 228.6v2.6h2.6M198.03 228.6v2.6h2.6M203.45 228.6v2.6h2.6M208.87 228.6v2.6h2.6M214.29 228.6v2.6h2.6M219.71 228.6v2.6h2.6M225.13 228.6v2.6h2.6M230.55 228.6v2.6h2.6M235.97 228.6v2.6h2.6M241.39 228.6v2.6h2.6" fill="none" stroke="#9a9a9a" stroke-width="0.6"/>
<rect x="248.3" y="227.5" width="43.44" height="4.8" fill="#2e2e2e"/>
<path d="M249.72 228.6h2.6v2.6h-2.6zM255.14 228.6h2.6v2.6h-2.6zM260.57 228.6h2.6v2.6h-2.6zM266 228.6h2.6v2.6h-2.6zM271.44 228.6h2.6v2.6h-2.6zM276.87 228.6h2.6v2.6h-2.6zM282.3 228.6h2.6v2.6h-2.6zM287.72 228.6h2.6v2.6h-2.6z" fill="#202020"/>
<path d="M249.72 228.6v2.6h2.6M255.14 228.6v2.6h2.6M260.57 228.6v2.6h2.6M266 228.6v2.6h2.6M271.44 228.6v2.6h2.6M276.87 228.6v2.6h2.6M282.3 228.6v2.6h2.6M287.72 228.6v2.6h2.6" fill="none" stroke="#9a9a9a" stroke-width="0.6"/>
<rect x="210.6" y="329.6" width="43.28" height="4.8" fill="#2e2e2e"/>
<path d="M212 330.7h2.6v2.6h-2.6zM217.41 330.7h2.6v2.6h-2.6zM222.82 330.7h2.6v2.6h-2.6zM228.23 330.7h2.6v2.6h-2.6zM233.64 330.7h2.6v2.6h-2.6zM239.05 330.7h2.6v2.6h-2.6zM244.46 330.7h2.6v2.6h-2.6zM249.88 330.7h2.6v2.6h-2.6z" fill="#202020"/>
<path d="M212 330.7v2.6h2.6M217.41 330.7v2.6h2.6M222.82 330.7v2.6h2.6M228.23 330.7v2.6h2.6M233.64 330.7v2.6h2.6M239.05 330.7v2.6h2.6M244.46 330.7v2.6h2.6M249.88 330.7v2.6h2.6" fill="none" stroke="#9a9a9a" stroke-width="0.6"/>
<rect x="258.8" y="329.6" width="32.7" height="4.8" fill="#2e2e2e"/>
<path d="M260.23 330.7h2.6v2.6h-2.6zM265.68 330.7h2.6v2.6h-2.6zM271.12 330.7h2.6v2.6h-2.6zM276.57 330.7h2.6v2.6h-2.6zM282.02 330.7h2.6v2.6h-2.6zM287.48 330.7h2.6v2.6h-2.6z" fill="#202020"/>
<path d="M260.23 330.7v2.6h2.6M265.68 330.7v2.6h2.6M271.12 330.7v2.6h2.6M276.57 330.7v2.6h2.6M282.02 330.7v2.6h2.6M287.48 330.7v2.6h2.6" fill="none" stroke="#9a9a9a" stroke-width="0.6"/>
<rect x="213" y="245.9" width="77" height="0.9" fill="#a9c6de"/>
<text x="243" y="244.7" font-family="Liberation Sans" font-size="4.6" fill="#e6eef5" textLength="35" lengthAdjust="spacingAndGlyphs">DIGITAL (PWM ~)</text>
<g font-family="Liberation Sans" font-size="4" fill="#d6e3ee"><text transform="translate(205.95 234.6) rotate(-90)" text-anchor="end">AREF</text><text transform="translate(211.37 234.6) rotate(-90)" text-anchor="end">GND</text><text transform="translate(216.79 234.6) rotate(-90)" text-anchor="end">13</text><text transform="translate(222.21 234.6) rotate(-90)" text-anchor="end">12</text><text transform="translate(227.63 234.6) rotate(-90)" text-anchor="end">~11</text><text transform="translate(233.05 234.6) rotate(-90)" text-anchor="end">~10</text><text transform="translate(238.47 234.6) rotate(-90)" text-anchor="end">~9</text><text transform="translate(243.89 234.6) rotate(-90)" text-anchor="end">8</text><text transform="translate(252.22 234.6) rotate(-90)" text-anchor="end">7</text><text transform="translate(257.64 234.6) rotate(-90)" text-anchor="end">~6</text><text transform="translate(263.07 234.6) rotate(-90)" text-anchor="end">~5</text><text transform="translate(268.5 234.6) rotate(-90)" text-anchor="end">4</text><text transform="translate(273.94 234.6) rotate(-90)" text-anchor="end">~3</text><text transform="translate(279.37 234.6) rotate(-90)" text-anchor="end">2</text><text transform="translate(284.8 234.6) rotate(-90)" text-anchor="end">TX1</text><text transform="translate(290.22 234.6) rotate(-90)" text-anchor="end">RX0</text><text transform="translate(219.91 327.8) rotate(-90)">IOREF</text><text transform="translate(225.32 327.8) rotate(-90)">RESET</text><text transform="translate(230.73 327.8) rotate(-90)">3.3V</text><text transform="translate(236.14 327.8) rotate(-90)">5V</text><text transform="translate(241.55 327.8) rotate(-90)">GND</text><text transform="translate(246.96 327.8) rotate(-90)">GND</text><text transform="translate(252.38 327.8) rotate(-90)">Vin</text><text transform="translate(262.73 327.8) rotate(-90)">A0</text><text transform="translate(268.18 327.8) rotate(-90)">A1</text><text transform="translate(273.62 327.8) rotate(-90)">A2</text><text transform="translate(279.07 327.8) rotate(-90)">A3</text><text transform="translate(284.52 327.8) rotate(-90)">A4</text><text transform="translate(289.98 327.8) rotate(-90)">A5</text></g>
<rect x="210" y="249.3" width="7.2" height="2.6" fill="#e4e4e4"/>
<text x="208.5" y="251.6" font-family="Liberation Sans" font-size="2.6" fill="#d9e6f0" text-anchor="end">L</text>
<rect x="210" y="259.4" width="7.2" height="2.6" fill="#e4e4e4"/>
<text x="208.5" y="261.7" font-family="Liberation Sans" font-size="2.6" fill="#d9e6f0" text-anchor="end">TX</text>
<rect x="210" y="264.4" width="7.2" height="2.6" fill="#e4e4e4"/>
<text x="208.5" y="266.7" font-family="Liberation Sans" font-size="2.6" fill="#d9e6f0" text-anchor="end">RX</text>
<rect x="277" y="259.4" width="7.2" height="2.6" fill="#e4e4e4"/>
<text x="285" y="261.8" font-family="Liberation Sans" font-size="2.8" fill="#d9e6f0">ON</text>
<rect x="190" y="259.4" width="10.6" height="11.2" fill="#383838"/>
<g fill="none" stroke="#f4f7fa" stroke-width="2.4"><circle cx="227.7" cy="255" r="4.9"/><circle cx="239.9" cy="255" r="4.9"/></g>
<path d="M225.9 255h3.6M238.1 255h3.6M239.9 253.2v3.6" stroke="#f4f7fa" stroke-width="0.9"/>
<text x="222" y="266.1" font-family="Liberation Sans" font-weight="bold" font-size="4.4" fill="#f4f7fa" textLength="23.5" lengthAdjust="spacing">ARDUINO</text>
<text x="262.5" y="259.3" font-family="Liberation Sans" font-size="10.8" fill="#f2f6fa" stroke="#306c9a" stroke-width="0.3" text-anchor="middle" textLength="19.5" lengthAdjust="spacingAndGlyphs">UNO</text>
<rect x="180.5" y="277.5" width="25.5" height="10.2" rx="5.1" fill="#d9d9d9" stroke="#c6c6c6" stroke-width="0.6"/>
<rect x="190.5" y="292.4" width="6.6" height="6.6" fill="#383838"/>
<rect x="161.5" y="298" width="4.5" height="6.8" fill="#e0e0e0"/>
<rect x="165.7" y="294.5" width="6.6" height="13.9" fill="#333"/>
<rect x="172.5" y="296.45" width="4.5" height="2.3" fill="#e0e0e0"/>
<rect x="172.5" y="300.35" width="4.5" height="2.3" fill="#e0e0e0"/>
<rect x="172.5" y="304.25" width="4.5" height="2.3" fill="#e0e0e0"/>
<rect x="198.9" y="303.6" width="3.2" height="6" fill="#333"/>
<rect x="197.1" y="304.45" width="1.8" height="1.3" fill="#ddd"/><rect x="202.1" y="304.45" width="1.8" height="1.3" fill="#ddd"/>
<rect x="197.1" y="307.65" width="1.8" height="1.3" fill="#ddd"/><rect x="202.1" y="307.65" width="1.8" height="1.3" fill="#ddd"/>
<rect x="148.3" y="312.2" width="29.8" height="22.4" fill="#2a2a2a"/>
<rect x="152" y="313.5" width="25" height="19.5" rx="2" fill="#3a3a3a"/>
<circle cx="189.7" cy="320.2" r="6.6" fill="#2a5b84"/>
<circle cx="189.7" cy="319.3" r="6.6" fill="#e6e6e6"/>
<circle cx="189.7" cy="319.3" r="5.6" fill="#d9d9d9"/>
<path d="M184.4 321.4H195Q194.3 325.6 189.7 325.6Q185.1 325.6 184.4 321.4Z" fill="#383838"/>
<circle cx="205.5" cy="320.2" r="6.6" fill="#2a5b84"/>
<circle cx="205.5" cy="319.3" r="6.6" fill="#e6e6e6"/>
<circle cx="205.5" cy="319.3" r="5.6" fill="#d9d9d9"/>
<path d="M200.2 321.4H210.8Q210.1 325.6 205.5 325.6Q200.9 325.6 200.2 321.4Z" fill="#383838"/>
<rect x="212.7" y="294.4" width="79.2" height="18.9" fill="#37393b"/>
<path d="M215.5 295.2h2.6v0.9h-2.6zM215.5 311.6h2.6v0.9h-2.6zM220.91 295.2h2.6v0.9h-2.6zM220.91 311.6h2.6v0.9h-2.6zM226.32 295.2h2.6v0.9h-2.6zM226.32 311.6h2.6v0.9h-2.6zM231.73 295.2h2.6v0.9h-2.6zM231.73 311.6h2.6v0.9h-2.6zM237.14 295.2h2.6v0.9h-2.6zM237.14 311.6h2.6v0.9h-2.6zM242.55 295.2h2.6v0.9h-2.6zM242.55 311.6h2.6v0.9h-2.6zM247.96 295.2h2.6v0.9h-2.6zM247.96 311.6h2.6v0.9h-2.6zM253.37 295.2h2.6v0.9h-2.6zM253.37 311.6h2.6v0.9h-2.6zM258.78 295.2h2.6v0.9h-2.6zM258.78 311.6h2.6v0.9h-2.6zM264.19 295.2h2.6v0.9h-2.6zM264.19 311.6h2.6v0.9h-2.6zM269.6 295.2h2.6v0.9h-2.6zM269.6 311.6h2.6v0.9h-2.6zM275.01 295.2h2.6v0.9h-2.6zM275.01 311.6h2.6v0.9h-2.6zM280.42 295.2h2.6v0.9h-2.6zM280.42 311.6h2.6v0.9h-2.6zM285.83 295.2h2.6v0.9h-2.6zM285.83 311.6h2.6v0.9h-2.6z" fill="#d8d8d8"/>
<circle cx="223.9" cy="303.7" r="1.9" fill="#2a2b2c"/><circle cx="280.4" cy="303.7" r="1.9" fill="#2a2b2c"/>
<rect x="226" y="315" width="28" height="0.6" fill="#a9c4dc"/><rect x="258.5" y="315" width="32" height="0.6" fill="#a9c4dc"/>
<text x="245" y="319.7" font-family="Liberation Sans" font-weight="bold" font-size="3.6" fill="#eef4f8" text-anchor="middle">POWER</text>
<text x="278" y="319.7" font-family="Liberation Sans" font-weight="bold" font-size="3.6" fill="#eef4f8" text-anchor="middle" textLength="23">ANALOG IN</text>
<rect x="306" y="74" width="27.1" height="68.9" fill="#2068ad"/>
<rect x="307.9" y="76" width="6.3" height="6.9" fill="#2f86cf"/><rect x="324.5" y="76" width="6.3" height="6.9" fill="#2f86cf"/>
<path d="M310 84.9H329.1L331.1 86.9V124H308V86.9Z" fill="#2a84cc"/>
<rect x="307.9" y="133.9" width="6.3" height="8" fill="#2f86cf"/><rect x="324.5" y="133.9" width="6.3" height="8" fill="#2f86cf"/>
<circle cx="319.3" cy="120.5" r="12.2" fill="#4a9fe6" stroke="#1f5f9c" stroke-width="1.3"/>
<circle cx="319.2" cy="104.8" r="9.3" fill="#6db8f5"/>
<circle cx="319.2" cy="78.6" r="2.7" fill="#000"/><rect x="318.05" y="73" width="2.3" height="5" fill="#000"/>
<path d="M314.6 144L313.6 154" stroke="#e07a1e" stroke-width="2.2"/><path d="M319.2 144V154" stroke="#d32020" stroke-width="2.2"/><path d="M323.8 144L324.6 154" stroke="#8a4a20" stroke-width="2.2"/>
<path d="M315.9 92Q315.9 89.2 319.3 89.2Q322.8 89.2 322.8 92L323.9 116.8L333.6 117.6Q335.4 117.8 335.4 120.6Q335.4 123.4 333.6 123.6L323.9 124.4L323 148.5Q323 151.2 319.3 151.2Q315.6 151.2 315.6 148.5L314.7 124.4L305 123.6Q303.2 123.4 303.2 120.6Q303.2 117.8 305 117.6L314.7 116.8Z" fill="#eeeeee" stroke="#d4d4d4" stroke-width="0.4"/>
<circle cx="319.3" cy="120.5" r="5.6" fill="#ececec" stroke="#9a9a9a" stroke-width="0.5" stroke-dasharray="0.8 0.5"/>
<circle cx="319.3" cy="120.5" r="3.6" fill="#dedede" stroke="#8d8d8d" stroke-width="0.5"/>
<path d="M317 118.2L321.6 122.8M321.6 118.2L317 122.8M319.3 117.3V123.7M316.1 120.5H322.5" stroke="#a8a8a8" stroke-width="0.4"/>
<circle cx="319.2" cy="99" r="0.85" fill="#6ab0ee"/>
<circle cx="319.2" cy="102" r="0.85" fill="#2a5f95"/>
<circle cx="319.2" cy="105.6" r="0.85" fill="#2a5f95"/>
<circle cx="319.2" cy="108.9" r="0.85" fill="#6ab0ee"/>
<circle cx="319.2" cy="111.9" r="0.85" fill="#6ab0ee"/>
<circle cx="319.2" cy="128.6" r="0.85" fill="#6ab0ee"/>
<circle cx="319.2" cy="132.3" r="0.85" fill="#2a5f95"/>
<circle cx="319.2" cy="135.6" r="0.85" fill="#aa2a2a"/>
<circle cx="319.2" cy="138.9" r="0.85" fill="#aa2a2a"/>
<circle cx="319.2" cy="142.2" r="0.85" fill="#aa2a2a"/>
<circle cx="319.2" cy="145.4" r="0.85" fill="#aa2a2a"/>
<circle cx="319.2" cy="149" r="0.85" fill="#aa2a2a"/>
<circle cx="319.2" cy="92" r="0.85" fill="#2a5f95"/>
<circle cx="319.2" cy="95.5" r="0.85" fill="#6ab0ee"/>
<circle cx="307.6" cy="120.8" r="0.85" fill="#2a5f95"/>
<circle cx="310.9" cy="120.8" r="0.85" fill="#6ab0ee"/>
<circle cx="327.5" cy="120.8" r="0.85" fill="#6ab0ee"/>
<circle cx="330.8" cy="120.8" r="0.85" fill="#2a5f95"/>
<rect x="310.2" y="153.7" width="18.5" height="17.2" fill="#2b2b2b"/>
<rect x="310.2" y="160" width="18.5" height="0.5" fill="#383838"/>
<rect x="312.4" y="166.3" width="3.6" height="3.6" fill="#1a1a1a" stroke="#555" stroke-width="0.5"/>
<rect x="317.4" y="166.3" width="3.6" height="3.6" fill="#1a1a1a" stroke="#555" stroke-width="0.5"/>
<rect x="322.6" y="166.3" width="3.6" height="3.6" fill="#1a1a1a" stroke="#555" stroke-width="0.5"/>
<path d="M340.87 248.9L340.87 254.1Q340.1 255.53 338.67 256.3L337.7 256.3Q336.27 257.07 335.5 258.5L335.5 265" fill="none" stroke="#e3161c" stroke-width="1.8" stroke-linecap="round" stroke-linejoin="round"/>
<path d="M367.72 248.9V265" fill="none" stroke="#e3161c" stroke-width="1.8" stroke-linecap="round" stroke-linejoin="round"/>
<path d="M399.94 248.9V265" fill="none" stroke="#e3161c" stroke-width="1.8" stroke-linecap="round" stroke-linejoin="round"/>
<path d="M432.16 248.9V265" fill="none" stroke="#e3161c" stroke-width="1.8" stroke-linecap="round" stroke-linejoin="round"/>
<path d="M464.38 248.9V265" fill="none" stroke="#e3161c" stroke-width="1.8" stroke-linecap="round" stroke-linejoin="round"/>
<path d="M501.97 248.9L499.29 248.9Q497.54 249.84 496.6 251.59L496.6 265" fill="none" stroke="#e3161c" stroke-width="1.8" stroke-linecap="round" stroke-linejoin="round"/>
<path d="M507.34 243.5V265" fill="none" stroke="#383b3e" stroke-width="1.8" stroke-linecap="round" stroke-linejoin="round"/>
<path d="M501.97 265L501.97 261.3Q503.27 258.89 505.67 257.6L541.23 257.6Q543.63 258.89 544.93 261.3L544.93 265" fill="none" stroke="#a87a48" stroke-width="1.8" stroke-linecap="round" stroke-linejoin="round"/>
<path d="M534.19 243.5V265" fill="none" stroke="#383b3e" stroke-width="1.8" stroke-linecap="round" stroke-linejoin="round"/>
<path d="M539.56 248.9V265" fill="none" stroke="#e3161c" stroke-width="1.8" stroke-linecap="round" stroke-linejoin="round"/>
<path d="M555.67 243.5V265" fill="none" stroke="#383b3e" stroke-width="1.8" stroke-linecap="round" stroke-linejoin="round"/>
<path d="M614.74 243.5V273" fill="none" stroke="#383b3e" stroke-width="1.8" stroke-linecap="round" stroke-linejoin="round"/>
<path d="M652.33 243.5L679.4 243.5Q682.32 245.07 683.9 248L683.9 276" fill="none" stroke="#383b3e" stroke-width="1.8" stroke-linecap="round" stroke-linejoin="round"/>
<path d="M652.33 248.9L676.2 248.9Q678.8 250.3 680.2 252.9L680.2 273" fill="none" stroke="#e3161c" stroke-width="1.8" stroke-linecap="round" stroke-linejoin="round"/>
<path d="M245.8 332L245.8 337Q246.85 338.95 248.8 340L335.5 340" fill="none" stroke="#383b3e" stroke-width="1.8" stroke-linecap="round" stroke-linejoin="round"/>
<path d="M234.8 332L234.8 342.1Q236.03 344.38 238.3 345.6L335.5 345.6" fill="none" stroke="#e3161c" stroke-width="1.8" stroke-linecap="round" stroke-linejoin="round"/>
<rect x="519.5" y="272.7" width="169.5" height="75.8" fill="#50a36a"/>
<rect x="528.9" y="284.1" width="150.6" height="53.7" fill="#333333"/>
<rect x="528.9" y="337.8" width="150.6" height="1.2" fill="#44875a"/>
<rect x="534.3" y="293.8" width="139.7" height="33.8" fill="#1d2946"/>
<circle cx="523.9" cy="277.3" r="2.3" fill="#e8e8e8"/>
<circle cx="523.9" cy="344.3" r="2.3" fill="#e8e8e8"/>
<circle cx="683.9" cy="277.3" r="2.3" fill="#111"/>
<circle cx="683.9" cy="344.3" r="2.3" fill="#111"/>
<circle cx="534.19" cy="275.7" r="1.2" fill="#3d3d3d" stroke="#ecdf9e" stroke-width="1"/>
<circle cx="539.56" cy="275.7" r="1.2" fill="#3d3d3d" stroke="#ecdf9e" stroke-width="1"/>
<circle cx="544.93" cy="275.7" r="1.2" fill="#3d3d3d" stroke="#ecdf9e" stroke-width="1"/>
<circle cx="550.3" cy="275.7" r="1.2" fill="#3d3d3d" stroke="#ecdf9e" stroke-width="1"/>
<circle cx="555.67" cy="275.7" r="1.2" fill="#3d3d3d" stroke="#ecdf9e" stroke-width="1"/>
<circle cx="561.04" cy="275.7" r="1.2" fill="#3d3d3d" stroke="#ecdf9e" stroke-width="1"/>
<circle cx="566.41" cy="275.7" r="1.2" fill="#3d3d3d" stroke="#ecdf9e" stroke-width="1"/>
<circle cx="571.78" cy="275.7" r="1.2" fill="#3d3d3d" stroke="#ecdf9e" stroke-width="1"/>
<circle cx="577.15" cy="275.7" r="1.2" fill="#3d3d3d" stroke="#ecdf9e" stroke-width="1"/>
<circle cx="582.52" cy="275.7" r="1.2" fill="#3d3d3d" stroke="#ecdf9e" stroke-width="1"/>
<circle cx="587.89" cy="275.7" r="1.2" fill="#3d3d3d" stroke="#ecdf9e" stroke-width="1"/>
<circle cx="593.26" cy="275.7" r="1.2" fill="#3d3d3d" stroke="#ecdf9e" stroke-width="1"/>
<circle cx="598.63" cy="275.7" r="1.2" fill="#3d3d3d" stroke="#ecdf9e" stroke-width="1"/>
<circle cx="604" cy="275.7" r="1.2" fill="#3d3d3d" stroke="#ecdf9e" stroke-width="1"/>
<circle cx="609.37" cy="275.7" r="1.2" fill="#3d3d3d" stroke="#ecdf9e" stroke-width="1"/>
<circle cx="614.74" cy="275.7" r="1.2" fill="#3d3d3d" stroke="#ecdf9e" stroke-width="1"/>
<g font-family="Liberation Sans" font-size="2.5" font-weight="bold" fill="#f4fbf5"><text transform="translate(533.19 278.2) rotate(90)">GND</text><text transform="translate(538.56 278.2) rotate(90)">VCC</text><text transform="translate(543.93 278.2) rotate(90)">V0</text><text transform="translate(549.3 278.2) rotate(90)">RS</text><text transform="translate(554.67 278.2) rotate(90)">RW</text><text transform="translate(560.04 278.2) rotate(90)">E</text><text transform="translate(565.41 278.2) rotate(90)">DB0</text><text transform="translate(570.78 278.2) rotate(90)">DB1</text><text transform="translate(576.15 278.2) rotate(90)">DB2</text><text transform="translate(581.52 278.2) rotate(90)">DB3</text><text transform="translate(586.89 278.2) rotate(90)">DB4</text><text transform="translate(592.26 278.2) rotate(90)">DB5</text><text transform="translate(597.63 278.2) rotate(90)">DB6</text><text transform="translate(603 278.2) rotate(90)">DB7</text><text transform="translate(608.37 278.2) rotate(90)">LED</text><text transform="translate(613.74 278.2) rotate(90)">LED</text></g>
<path d="M324.8 171L324.8 207.7Q326.02 209.97 328.3 211.2L331.4 211.2Q333.67 212.42 334.9 214.7L334.9 243.5" fill="none" stroke="#383b3e" stroke-width="1.8" stroke-linecap="round" stroke-linejoin="round"/>
<path d="M277.8 229.5L277.8 214.7Q279.02 212.42 281.3 211.2L310.9 211.2Q313.17 209.97 314.4 207.7L314.4 171" fill="none" stroke="#3cc43c" stroke-width="1.8" stroke-linecap="round" stroke-linejoin="round"/>
<path d="M242.7 229.5L242.7 200Q244.1 197.4 246.7 196L546.3 196Q548.9 197.4 550.3 200L550.3 265.2" fill="none" stroke="#7b3a95" stroke-width="1.8" stroke-linecap="round" stroke-linejoin="round"/>
<path d="M251 229.5L251 205Q252.4 202.4 255 201L557.04 201Q559.64 202.4 561.04 205L561.04 265.2" fill="none" stroke="#7b3a95" stroke-width="1.8" stroke-linecap="round" stroke-linejoin="round"/>
<path d="M256.4 229.5L256.4 210Q257.8 207.4 260.4 206L583.89 206Q586.49 207.4 587.89 210L587.89 265.2" fill="none" stroke="#7b3a95" stroke-width="1.8" stroke-linecap="round" stroke-linejoin="round"/>
<path d="M261.8 229.5L261.8 214.2Q263.2 211.6 265.8 210.2L589.26 210.2Q591.86 211.6 593.26 214.2L593.26 265.2" fill="none" stroke="#7b3a95" stroke-width="1.8" stroke-linecap="round" stroke-linejoin="round"/>
<path d="M267.1 229.5L267.1 218.8Q268.5 216.2 271.1 214.8L594.63 214.8Q597.23 216.2 598.63 218.8L598.63 265.2" fill="none" stroke="#7b3a95" stroke-width="1.8" stroke-linecap="round" stroke-linejoin="round"/>
<path d="M272.3 229.5L272.3 222.9Q273.7 220.3 276.3 218.9L600 218.9Q602.6 220.3 604 222.9L604 265.2" fill="none" stroke="#7b3a95" stroke-width="1.8" stroke-linecap="round" stroke-linejoin="round"/>
<path d="M319.6 171L319.6 244.9Q321 247.5 323.6 248.9L335.5 248.9" fill="none" stroke="#e3161c" stroke-width="1.8" stroke-linecap="round" stroke-linejoin="round"/>
<path d="M262 331L262 355.1Q262.3 356.18 262.85 357.15L264.65 358.95Q265.62 359.5 266.7 359.8L347.84 359.8Q348.92 359.5 349.89 358.95L351.19 357.65Q351.74 356.68 352.04 355.6L352.04 317.8Q351.79 316.68 351.33 315.63L350.55 314.57Q349.67 313.94 348.64 313.6L346.24 313.6" fill="none" stroke="#13a0dc" stroke-width="2.1" stroke-linecap="round" stroke-linejoin="round"/>
<path d="M267.2 331L267.2 359.3Q267.5 360.38 268.05 361.35L269.85 363.15Q270.82 363.7 271.9 364L380.66 364Q381.74 363.7 382.71 363.15L384.01 361.85Q384.56 360.88 384.86 359.8L384.86 317.8Q384.61 316.68 384.15 315.63L383.37 314.57Q382.49 313.94 381.46 313.6L378.46 313.6" fill="none" stroke="#13a0dc" stroke-width="2.1" stroke-linecap="round" stroke-linejoin="round"/>
<path d="M272.3 331L272.3 363.9Q272.6 364.98 273.15 365.95L274.95 367.75Q275.92 368.3 277 368.6L412.78 368.6Q413.86 368.3 414.83 367.75L416.13 366.45Q416.68 365.48 416.98 364.4L416.98 317.8Q416.73 316.68 416.27 315.63L415.49 314.57Q414.61 313.94 413.58 313.6L410.68 313.6" fill="none" stroke="#13a0dc" stroke-width="2.1" stroke-linecap="round" stroke-linejoin="round"/>
<path d="M277.7 331L277.7 368.5Q278 369.58 278.55 370.55L280.35 372.35Q281.32 372.9 282.4 373.2L444.6 373.2Q445.68 372.9 446.65 372.35L447.95 371.05Q448.5 370.08 448.8 369L448.8 317.8Q448.55 316.68 448.09 315.63L447.31 314.57Q446.43 313.94 445.4 313.6L442.9 313.6" fill="none" stroke="#13a0dc" stroke-width="2.1" stroke-linecap="round" stroke-linejoin="round"/>
<path d="M283 331L283 373.9Q283.3 374.98 283.85 375.95L285.65 377.75Q286.62 378.3 287.7 378.6L477.92 378.6Q479 378.3 479.97 377.75L481.27 376.45Q481.82 375.48 482.12 374.4L482.12 317.8Q481.87 316.68 481.41 315.63L480.63 314.57Q479.75 313.94 478.72 313.6L475.12 313.6" fill="none" stroke="#13a0dc" stroke-width="2.1" stroke-linecap="round" stroke-linejoin="round"/>
</svg></body></html>
